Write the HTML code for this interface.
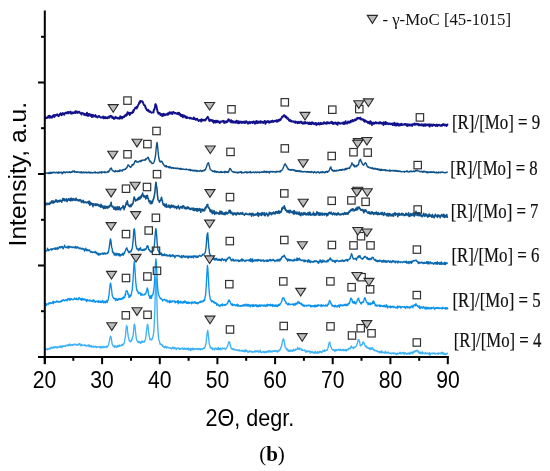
<!DOCTYPE html>
<html><head><meta charset="utf-8"><style>
html,body{margin:0;padding:0;background:#fff;}
body{width:550px;height:471px;overflow:hidden;}
svg{display:block;}
.a{stroke:#000;stroke-width:2;fill:none;}
.t{fill:#bcbcbc;stroke:#2a2a2a;stroke-width:1.1;stroke-linejoin:miter;}
.s{fill:none;stroke:#333;stroke-width:1.2;}
.tk{font-family:"Liberation Sans",Arial,sans-serif;font-size:23px;text-anchor:middle;fill:#000;}
.at{font-family:"Liberation Sans",Arial,sans-serif;font-size:23.2px;fill:#000;}
.at2{font-family:"Liberation Sans",Arial,sans-serif;font-size:24.6px;fill:#000;}
.lb{font-family:"Liberation Serif","Times New Roman",serif;font-size:20px;fill:#111;stroke:#111;stroke-width:0.2;}
.lg{font-family:"Liberation Serif","Times New Roman",serif;font-size:16.8px;fill:#111;}
.bb{font-family:"Liberation Serif","Times New Roman",serif;font-size:21px;font-weight:bold;fill:#000;}
</style></head><body>
<svg width="550" height="471" viewBox="0 0 550 471">
<polyline fill="none" stroke="#40b2f6" stroke-width="1.35" stroke-linejoin="round" points="45.00,349.6 45.35,349.7 45.70,349.3 46.05,348.9 46.40,349.1 46.75,348.7 47.10,349.2 47.45,349.8 47.80,348.8 48.15,348.6 48.50,349.2 48.85,349.0 49.20,348.8 49.55,348.2 49.90,348.6 50.25,349.0 50.60,347.8 50.95,348.2 51.30,347.3 51.65,347.6 52.00,347.2 52.35,348.1 52.70,347.4 53.05,348.2 53.40,348.1 53.75,347.8 54.10,346.5 54.45,347.5 54.80,347.7 55.15,347.8 55.50,346.8 55.85,347.3 56.20,347.0 56.55,347.0 56.90,348.0 57.25,346.9 57.60,347.3 57.95,347.7 58.30,346.8 58.65,347.0 59.00,347.1 59.35,347.0 59.70,346.2 60.05,346.9 60.40,347.5 60.75,345.8 61.10,347.1 61.45,346.6 61.80,346.1 62.15,347.5 62.50,346.8 62.85,345.6 63.20,346.3 63.55,346.5 63.90,346.0 64.25,346.4 64.60,345.9 64.95,346.2 65.30,346.6 65.65,345.4 66.00,345.8 66.35,345.4 66.70,345.6 67.05,344.8 67.40,345.1 67.75,345.3 68.10,345.8 68.45,345.9 68.80,344.5 69.15,344.7 69.50,345.4 69.85,343.9 70.20,344.7 70.55,344.9 70.90,345.6 71.25,345.2 71.60,344.6 71.95,344.6 72.30,344.6 72.65,345.6 73.00,344.5 73.35,344.5 73.70,344.8 74.05,344.6 74.40,344.5 74.75,344.0 75.10,344.6 75.45,344.3 75.80,345.2 76.15,344.9 76.50,344.6 76.85,344.9 77.20,344.4 77.55,345.2 77.90,344.6 78.25,345.0 78.60,344.0 78.95,344.9 79.30,343.8 79.65,343.6 80.00,344.6 80.35,344.3 80.70,345.0 81.05,346.1 81.40,344.5 81.75,344.7 82.10,345.2 82.45,345.4 82.80,345.1 83.15,345.1 83.50,345.6 83.85,345.6 84.20,344.8 84.55,345.4 84.90,345.5 85.25,345.0 85.60,345.7 85.95,345.2 86.30,346.2 86.65,345.9 87.00,345.9 87.35,345.6 87.70,345.9 88.05,344.9 88.40,345.4 88.75,346.3 89.10,345.0 89.45,346.7 89.80,345.3 90.15,346.7 90.50,345.9 90.85,346.8 91.20,346.5 91.55,345.6 91.90,347.2 92.25,347.3 92.60,346.5 92.95,346.5 93.30,346.6 93.65,346.1 94.00,347.3 94.35,346.4 94.70,346.7 95.05,346.4 95.40,346.5 95.75,346.2 96.10,347.6 96.45,346.8 96.80,347.5 97.15,347.0 97.50,346.6 97.85,346.8 98.20,346.7 98.55,347.1 98.90,346.9 99.25,347.0 99.60,346.4 99.95,346.7 100.30,348.1 100.65,346.8 101.00,346.6 101.35,347.4 101.70,348.0 102.05,346.5 102.40,347.2 102.75,346.9 103.10,346.3 103.45,347.7 103.80,347.2 104.15,347.3 104.50,346.8 104.85,347.5 105.20,346.9 105.55,347.0 105.90,346.5 106.25,346.3 106.60,347.6 106.95,346.5 107.30,346.8 107.65,346.3 108.00,345.7 108.35,345.0 108.70,344.7 109.05,342.7 109.40,340.9 109.75,338.9 110.10,337.5 110.45,336.2 110.80,336.5 111.15,337.8 111.50,339.5 111.85,342.7 112.20,344.2 112.55,344.6 112.90,345.7 113.25,346.2 113.60,346.5 113.95,346.7 114.30,346.0 114.65,347.2 115.00,345.7 115.35,346.9 115.70,346.7 116.05,346.9 116.40,347.4 116.75,347.2 117.10,345.7 117.45,345.4 117.80,346.8 118.15,345.7 118.50,346.2 118.85,346.6 119.20,345.2 119.55,344.9 119.90,346.1 120.25,345.9 120.60,345.7 120.95,345.8 121.30,345.1 121.65,344.7 122.00,345.3 122.35,344.7 122.70,344.1 123.05,345.0 123.40,344.4 123.75,344.2 124.10,342.8 124.45,342.0 124.80,340.2 125.15,338.0 125.50,335.5 125.85,331.2 126.20,328.0 126.55,325.4 126.90,326.3 127.25,326.8 127.60,331.5 127.95,334.2 128.30,336.9 128.65,337.9 129.00,339.6 129.35,341.0 129.70,340.9 130.05,341.2 130.40,341.1 130.75,341.9 131.10,341.2 131.45,339.8 131.80,340.2 132.15,338.8 132.50,336.9 132.85,336.6 133.20,335.0 133.55,331.0 133.90,326.8 134.25,324.2 134.60,324.7 134.95,326.2 135.30,329.6 135.65,333.0 136.00,336.0 136.35,338.6 136.70,340.0 137.05,340.7 137.40,340.6 137.75,341.9 138.10,341.5 138.45,342.6 138.80,341.4 139.15,342.2 139.50,342.3 139.85,341.6 140.20,343.3 140.55,343.2 140.90,342.2 141.25,342.8 141.60,342.6 141.95,340.9 142.30,342.4 142.65,342.2 143.00,342.2 143.35,341.4 143.70,341.7 144.05,341.5 144.40,342.0 144.75,341.0 145.10,340.1 145.45,339.8 145.80,336.8 146.15,334.4 146.50,330.4 146.85,328.7 147.20,325.4 147.55,324.3 147.90,325.7 148.25,328.5 148.60,331.9 148.95,334.5 149.30,336.6 149.65,338.1 150.00,339.8 150.35,339.7 150.70,339.5 151.05,339.2 151.40,339.0 151.75,340.0 152.10,339.1 152.45,338.3 152.80,337.3 153.15,335.6 153.50,334.1 153.85,331.2 154.20,325.2 154.55,317.4 154.90,306.9 155.25,294.7 155.60,282.3 155.95,277.4 156.30,280.6 156.65,292.4 157.00,304.3 157.35,316.6 157.70,326.2 158.05,331.6 158.40,335.7 158.75,338.9 159.10,340.5 159.45,341.2 159.80,342.9 160.15,344.4 160.50,343.7 160.85,344.1 161.20,344.1 161.55,345.1 161.90,344.6 162.25,344.9 162.60,346.4 162.95,345.4 163.30,346.7 163.65,347.1 164.00,346.6 164.35,346.9 164.70,347.8 165.05,346.7 165.40,346.6 165.75,346.3 166.10,347.2 166.45,348.1 166.80,347.9 167.15,346.9 167.50,347.1 167.85,347.3 168.20,347.8 168.55,347.6 168.90,347.9 169.25,348.0 169.60,347.7 169.95,347.9 170.30,348.1 170.65,347.9 171.00,348.3 171.35,349.1 171.70,348.4 172.05,348.2 172.40,347.2 172.75,348.4 173.10,347.2 173.45,347.5 173.80,348.8 174.15,348.7 174.50,348.3 174.85,347.4 175.20,348.2 175.55,348.1 175.90,348.8 176.25,349.7 176.60,348.6 176.95,348.1 177.30,347.9 177.65,348.5 178.00,348.5 178.35,348.0 178.70,348.7 179.05,348.0 179.40,349.3 179.75,349.3 180.10,349.3 180.45,348.5 180.80,349.0 181.15,348.7 181.50,348.6 181.85,348.6 182.20,348.1 182.55,348.0 182.90,349.3 183.25,348.7 183.60,349.0 183.95,349.4 184.30,347.9 184.65,348.5 185.00,349.0 185.35,349.1 185.70,348.7 186.05,349.5 186.40,349.1 186.75,348.3 187.10,348.5 187.45,349.4 187.80,349.3 188.15,348.0 188.50,349.8 188.85,349.4 189.20,349.8 189.55,348.8 189.90,348.9 190.25,348.5 190.60,350.5 190.95,349.0 191.30,350.0 191.65,348.8 192.00,349.2 192.35,348.2 192.70,348.9 193.05,349.7 193.40,348.5 193.75,349.8 194.10,349.4 194.45,348.6 194.80,348.9 195.15,348.9 195.50,349.2 195.85,348.9 196.20,348.7 196.55,349.0 196.90,348.6 197.25,348.5 197.60,349.2 197.95,349.7 198.30,348.4 198.65,349.2 199.00,348.8 199.35,348.6 199.70,349.6 200.05,348.9 200.40,349.9 200.75,348.7 201.10,349.3 201.45,348.9 201.80,348.6 202.15,349.2 202.50,348.8 202.85,349.1 203.20,348.7 203.55,348.0 203.90,348.3 204.25,348.2 204.60,348.3 204.95,346.8 205.30,346.5 205.65,344.3 206.00,343.6 206.35,340.0 206.70,336.3 207.05,333.8 207.40,332.0 207.75,330.3 208.10,332.8 208.45,336.4 208.80,339.5 209.15,343.1 209.50,344.5 209.85,345.9 210.20,347.5 210.55,347.3 210.90,348.3 211.25,347.7 211.60,347.7 211.95,347.5 212.30,349.7 212.65,348.5 213.00,348.9 213.35,348.8 213.70,348.9 214.05,348.9 214.40,350.0 214.75,348.4 215.10,348.1 215.45,348.4 215.80,348.2 216.15,349.4 216.50,349.4 216.85,348.5 217.20,348.2 217.55,348.8 217.90,349.8 218.25,347.4 218.60,349.3 218.95,348.4 219.30,349.5 219.65,348.4 220.00,348.8 220.35,348.1 220.70,348.4 221.05,349.7 221.40,349.4 221.75,348.7 222.10,348.4 222.45,347.8 222.80,348.6 223.15,348.8 223.50,348.8 223.85,348.7 224.20,348.1 224.55,348.7 224.90,348.6 225.25,349.3 225.60,349.5 225.95,348.3 226.30,347.8 226.65,347.9 227.00,347.2 227.35,346.4 227.70,345.9 228.05,344.1 228.40,343.5 228.75,341.9 229.10,341.6 229.45,342.0 229.80,343.1 230.15,344.5 230.50,346.3 230.85,347.2 231.20,348.4 231.55,348.8 231.90,348.4 232.25,349.4 232.60,348.8 232.95,349.3 233.30,349.6 233.65,348.7 234.00,349.9 234.35,350.0 234.70,349.9 235.05,349.8 235.40,349.9 235.75,349.6 236.10,350.1 236.45,350.0 236.80,350.4 237.15,349.7 237.50,350.5 237.85,350.5 238.20,350.4 238.55,350.3 238.90,350.9 239.25,349.7 239.60,350.9 239.95,350.8 240.30,350.8 240.65,350.9 241.00,350.4 241.35,350.6 241.70,351.2 242.05,351.1 242.40,351.0 242.75,350.1 243.10,351.2 243.45,351.6 243.80,351.6 244.15,351.2 244.50,350.2 244.85,351.6 245.20,351.0 245.55,349.8 245.90,351.4 246.25,350.4 246.60,350.5 246.95,350.9 247.30,352.0 247.65,351.1 248.00,351.5 248.35,352.3 248.70,352.2 249.05,351.3 249.40,351.3 249.75,350.7 250.10,351.1 250.45,351.7 250.80,351.7 251.15,351.6 251.50,352.1 251.85,351.1 252.20,351.5 252.55,352.0 252.90,351.9 253.25,352.2 253.60,351.8 253.95,351.5 254.30,351.8 254.65,351.1 255.00,350.8 255.35,352.0 255.70,351.7 256.05,351.9 256.40,350.8 256.75,351.5 257.10,351.4 257.45,351.2 257.80,350.5 258.15,351.5 258.50,352.2 258.85,351.9 259.20,351.4 259.55,351.7 259.90,352.2 260.25,350.2 260.60,351.7 260.95,352.0 261.30,352.1 261.65,352.7 262.00,352.4 262.35,351.9 262.70,351.9 263.05,352.1 263.40,351.4 263.75,351.7 264.10,352.2 264.45,352.8 264.80,351.6 265.15,351.6 265.50,351.8 265.85,352.4 266.20,351.6 266.55,352.4 266.90,351.1 267.25,351.5 267.60,351.5 267.95,352.0 268.30,352.1 268.65,350.7 269.00,351.0 269.35,351.7 269.70,351.1 270.05,350.6 270.40,352.0 270.75,351.7 271.10,351.7 271.45,351.1 271.80,351.9 272.15,351.2 272.50,351.9 272.85,350.8 273.20,350.8 273.55,351.4 273.90,350.8 274.25,351.6 274.60,351.3 274.95,350.6 275.30,351.1 275.65,350.9 276.00,351.5 276.35,350.6 276.70,350.7 277.05,351.5 277.40,352.0 277.75,351.8 278.10,350.7 278.45,350.7 278.80,351.3 279.15,350.2 279.50,349.6 279.85,349.9 280.20,349.7 280.55,348.5 280.90,347.3 281.25,346.4 281.60,346.3 281.95,343.9 282.30,342.4 282.65,340.8 283.00,339.7 283.35,338.8 283.70,339.9 284.05,340.6 284.40,342.7 284.75,344.1 285.10,346.8 285.45,347.3 285.80,347.8 286.15,348.7 286.50,349.2 286.85,350.0 287.20,348.9 287.55,349.4 287.90,349.8 288.25,351.5 288.60,350.7 288.95,350.1 289.30,350.6 289.65,351.4 290.00,350.2 290.35,350.1 290.70,351.0 291.05,350.6 291.40,350.7 291.75,350.0 292.10,351.4 292.45,351.3 292.80,350.6 293.15,350.7 293.50,349.2 293.85,350.6 294.20,350.1 294.55,350.4 294.90,350.5 295.25,349.9 295.60,349.1 295.95,350.1 296.30,349.3 296.65,349.3 297.00,348.9 297.35,348.8 297.70,347.5 298.05,349.2 298.40,348.6 298.75,349.0 299.10,349.6 299.45,348.8 299.80,348.0 300.15,348.8 300.50,348.8 300.85,349.4 301.20,349.9 301.55,348.9 301.90,350.3 302.25,349.4 302.60,350.5 302.95,350.3 303.30,350.3 303.65,350.5 304.00,350.3 304.35,350.3 304.70,349.8 305.05,350.8 305.40,351.9 305.75,352.0 306.10,351.7 306.45,351.4 306.80,350.7 307.15,352.0 307.50,351.2 307.85,351.3 308.20,351.2 308.55,351.5 308.90,351.3 309.25,351.5 309.60,351.0 309.95,351.5 310.30,353.0 310.65,351.8 311.00,351.7 311.35,352.2 311.70,352.4 312.05,351.4 312.40,352.0 312.75,352.7 313.10,352.4 313.45,352.3 313.80,353.2 314.15,352.0 314.50,352.4 314.85,352.2 315.20,353.3 315.55,351.4 315.90,352.2 316.25,352.3 316.60,352.9 316.95,352.9 317.30,353.4 317.65,351.7 318.00,353.0 318.35,352.4 318.70,352.2 319.05,352.8 319.40,352.0 319.75,351.3 320.10,352.1 320.45,351.4 320.80,351.8 321.15,352.3 321.50,352.1 321.85,352.7 322.20,351.6 322.55,350.8 322.90,351.1 323.25,350.9 323.60,350.6 323.95,351.4 324.30,350.6 324.65,349.8 325.00,351.2 325.35,350.6 325.70,350.7 326.05,350.5 326.40,350.6 326.75,350.0 327.10,350.3 327.45,349.3 327.80,348.5 328.15,347.4 328.50,344.9 328.85,343.9 329.20,342.5 329.55,342.3 329.90,342.2 330.25,345.3 330.60,346.0 330.95,346.7 331.30,347.4 331.65,348.9 332.00,349.4 332.35,349.3 332.70,349.9 333.05,349.6 333.40,350.4 333.75,349.7 334.10,350.1 334.45,350.7 334.80,351.6 335.15,349.7 335.50,350.0 335.85,349.8 336.20,350.7 336.55,349.6 336.90,350.0 337.25,350.2 337.60,349.7 337.95,349.7 338.30,350.0 338.65,349.1 339.00,349.4 339.35,350.0 339.70,350.3 340.05,350.1 340.40,349.2 340.75,349.9 341.10,350.6 341.45,350.4 341.80,350.1 342.15,349.6 342.50,350.4 342.85,349.7 343.20,349.4 343.55,349.5 343.90,350.7 344.25,350.0 344.60,350.5 344.95,349.6 345.30,350.3 345.65,349.4 346.00,349.7 346.35,351.1 346.70,350.1 347.05,349.3 347.40,349.5 347.75,349.6 348.10,350.0 348.45,349.0 348.80,348.2 349.15,348.8 349.50,348.7 349.85,348.4 350.20,348.7 350.55,347.6 350.90,347.4 351.25,346.0 351.60,346.9 351.95,347.7 352.30,347.3 352.65,347.3 353.00,347.5 353.35,348.5 353.70,347.1 354.05,347.5 354.40,347.7 354.75,347.7 355.10,346.8 355.45,347.0 355.80,346.4 356.15,346.3 356.50,345.6 356.85,344.2 357.20,343.8 357.55,343.0 357.90,340.5 358.25,339.8 358.60,340.0 358.95,339.7 359.30,341.5 359.65,342.0 360.00,344.2 360.35,345.6 360.70,345.9 361.05,344.8 361.40,345.3 361.75,344.7 362.10,344.3 362.45,344.5 362.80,342.1 363.15,342.8 363.50,342.0 363.85,343.2 364.20,343.4 364.55,343.9 364.90,345.3 365.25,346.2 365.60,346.3 365.95,346.9 366.30,346.7 366.65,346.0 367.00,347.8 367.35,347.9 367.70,347.7 368.05,347.9 368.40,348.6 368.75,347.9 369.10,348.0 369.45,348.4 369.80,349.3 370.15,348.0 370.50,349.5 370.85,348.5 371.20,348.1 371.55,349.2 371.90,348.3 372.25,347.5 372.60,348.1 372.95,349.1 373.30,349.6 373.65,349.2 374.00,350.0 374.35,350.5 374.70,350.0 375.05,350.7 375.40,350.7 375.75,350.5 376.10,350.6 376.45,351.0 376.80,351.1 377.15,350.9 377.50,351.0 377.85,351.9 378.20,351.5 378.55,352.0 378.90,352.2 379.25,351.9 379.60,352.9 379.95,351.3 380.30,352.2 380.65,351.7 381.00,352.9 381.35,352.9 381.70,351.0 382.05,351.5 382.40,352.5 382.75,352.6 383.10,352.6 383.45,352.3 383.80,352.6 384.15,352.8 384.50,352.4 384.85,353.1 385.20,351.3 385.55,352.9 385.90,352.1 386.25,353.2 386.60,352.6 386.95,352.3 387.30,353.0 387.65,352.3 388.00,352.4 388.35,352.1 388.70,352.9 389.05,353.3 389.40,353.6 389.75,353.0 390.10,353.7 390.45,353.1 390.80,353.1 391.15,353.5 391.50,353.8 391.85,353.0 392.20,353.1 392.55,353.2 392.90,353.4 393.25,352.8 393.60,353.9 393.95,353.2 394.30,353.6 394.65,353.0 395.00,353.6 395.35,353.7 395.70,353.2 396.05,354.6 396.40,353.7 396.75,354.5 397.10,354.0 397.45,353.1 397.80,353.3 398.15,353.8 398.50,353.6 398.85,353.6 399.20,353.4 399.55,352.5 399.90,353.4 400.25,352.3 400.60,353.7 400.95,353.1 401.30,353.1 401.65,353.4 402.00,353.7 402.35,352.7 402.70,352.6 403.05,352.9 403.40,352.4 403.75,353.0 404.10,354.4 404.45,352.9 404.80,353.8 405.15,352.7 405.50,353.6 405.85,353.3 406.20,353.4 406.55,353.8 406.90,354.4 407.25,353.5 407.60,353.5 407.95,352.9 408.30,353.7 408.65,353.2 409.00,353.8 409.35,353.3 409.70,354.2 410.05,352.1 410.40,353.0 410.75,353.6 411.10,352.9 411.45,352.5 411.80,352.7 412.15,352.0 412.50,352.7 412.85,353.8 413.20,352.9 413.55,351.5 413.90,351.4 414.25,351.5 414.60,352.1 414.95,350.9 415.30,350.8 415.65,351.5 416.00,351.5 416.35,350.8 416.70,350.4 417.05,350.3 417.40,350.9 417.75,350.3 418.10,352.1 418.45,351.5 418.80,352.3 419.15,353.3 419.50,353.1 419.85,351.9 420.20,353.2 420.55,353.5 420.90,352.5 421.25,352.5 421.60,353.0 421.95,352.3 422.30,354.0 422.65,351.9 423.00,352.7 423.35,353.2 423.70,353.2 424.05,353.5 424.40,353.5 424.75,353.3 425.10,354.0 425.45,352.3 425.80,353.4 426.15,353.1 426.50,353.5 426.85,353.6 427.20,353.0 427.55,353.1 427.90,353.9 428.25,353.7 428.60,353.1 428.95,354.6 429.30,354.8 429.65,352.7 430.00,353.7 430.35,354.9 430.70,353.9 431.05,353.6 431.40,353.4 431.75,353.2 432.10,353.4 432.45,353.2 432.80,353.9 433.15,353.3 433.50,353.3 433.85,352.9 434.20,353.5 434.55,353.0 434.90,353.4 435.25,354.1 435.60,353.7 435.95,353.8 436.30,353.7 436.65,353.5 437.00,353.4 437.35,353.3 437.70,353.9 438.05,352.9 438.40,354.3 438.75,353.5 439.10,353.1 439.45,353.2 439.80,353.1 440.15,353.6 440.50,353.1 440.85,354.1 441.20,353.1 441.55,352.3 441.90,353.1 442.25,352.4 442.60,353.5 442.95,354.1 443.30,353.9 443.65,352.8 444.00,353.1 444.35,354.5 444.70,353.7 445.05,353.5 445.40,354.1 445.75,354.8 446.10,354.2 446.45,353.6 446.80,353.7 447.15,353.8 447.50,353.1 447.85,352.9"/>
<polyline fill="none" stroke="#0c93ee" stroke-width="1.35" stroke-linejoin="round" points="45.00,304.6 45.35,303.9 45.70,304.4 46.05,304.4 46.40,305.7 46.75,303.7 47.10,304.0 47.45,303.9 47.80,304.2 48.15,304.5 48.50,303.5 48.85,303.2 49.20,302.6 49.55,303.0 49.90,303.8 50.25,303.4 50.60,302.7 50.95,303.0 51.30,303.2 51.65,303.4 52.00,302.6 52.35,302.8 52.70,301.8 53.05,302.1 53.40,303.7 53.75,301.3 54.10,302.4 54.45,302.6 54.80,302.2 55.15,301.9 55.50,302.2 55.85,302.2 56.20,302.1 56.55,300.9 56.90,301.9 57.25,301.4 57.60,301.5 57.95,301.9 58.30,302.1 58.65,302.2 59.00,301.3 59.35,302.1 59.70,302.1 60.05,302.0 60.40,302.1 60.75,301.1 61.10,301.0 61.45,301.5 61.80,300.1 62.15,301.0 62.50,300.5 62.85,300.5 63.20,299.6 63.55,300.0 63.90,300.5 64.25,300.9 64.60,300.9 64.95,300.2 65.30,300.1 65.65,299.6 66.00,300.3 66.35,299.8 66.70,300.2 67.05,300.9 67.40,299.7 67.75,298.8 68.10,299.1 68.45,298.7 68.80,298.8 69.15,300.2 69.50,299.5 69.85,298.4 70.20,299.6 70.55,300.0 70.90,298.9 71.25,298.7 71.60,298.9 71.95,299.2 72.30,299.4 72.65,299.6 73.00,299.6 73.35,299.6 73.70,299.7 74.05,299.2 74.40,297.9 74.75,298.7 75.10,299.0 75.45,298.5 75.80,299.3 76.15,298.5 76.50,298.2 76.85,299.6 77.20,299.2 77.55,298.9 77.90,299.4 78.25,299.5 78.60,299.1 78.95,297.4 79.30,298.5 79.65,298.7 80.00,298.4 80.35,299.1 80.70,299.7 81.05,298.8 81.40,298.4 81.75,300.4 82.10,298.9 82.45,298.5 82.80,299.4 83.15,299.6 83.50,299.0 83.85,299.9 84.20,299.2 84.55,299.0 84.90,299.7 85.25,300.1 85.60,299.3 85.95,300.0 86.30,299.8 86.65,301.6 87.00,299.5 87.35,300.8 87.70,300.0 88.05,300.0 88.40,300.6 88.75,300.7 89.10,301.0 89.45,300.5 89.80,300.0 90.15,300.1 90.50,300.8 90.85,300.9 91.20,301.4 91.55,300.9 91.90,301.3 92.25,301.6 92.60,300.9 92.95,299.9 93.30,300.1 93.65,300.0 94.00,301.9 94.35,300.5 94.70,301.8 95.05,301.4 95.40,302.2 95.75,301.8 96.10,301.2 96.45,301.2 96.80,301.4 97.15,301.5 97.50,301.1 97.85,301.5 98.20,302.5 98.55,300.6 98.90,301.8 99.25,301.1 99.60,301.8 99.95,302.3 100.30,301.8 100.65,302.3 101.00,300.9 101.35,302.6 101.70,301.6 102.05,302.3 102.40,302.1 102.75,300.5 103.10,301.6 103.45,302.1 103.80,302.9 104.15,302.2 104.50,302.1 104.85,301.1 105.20,302.7 105.55,302.9 105.90,301.7 106.25,301.5 106.60,300.5 106.95,301.7 107.30,302.5 107.65,300.8 108.00,300.4 108.35,298.9 108.70,296.3 109.05,295.3 109.40,290.7 109.75,287.7 110.10,284.6 110.45,283.2 110.80,283.7 111.15,286.5 111.50,289.2 111.85,291.9 112.20,295.1 112.55,296.2 112.90,296.9 113.25,297.6 113.60,298.5 113.95,297.9 114.30,298.3 114.65,298.3 115.00,299.4 115.35,299.6 115.70,300.6 116.05,298.5 116.40,299.0 116.75,300.0 117.10,299.3 117.45,299.2 117.80,300.4 118.15,299.2 118.50,298.7 118.85,298.6 119.20,299.5 119.55,299.5 119.90,298.4 120.25,298.6 120.60,299.5 120.95,299.4 121.30,298.6 121.65,299.3 122.00,299.2 122.35,297.7 122.70,298.5 123.05,298.8 123.40,298.0 123.75,296.8 124.10,297.6 124.45,297.7 124.80,297.4 125.15,294.0 125.50,295.4 125.85,291.5 126.20,291.2 126.55,290.5 126.90,290.7 127.25,291.4 127.60,292.1 127.95,294.4 128.30,294.6 128.65,294.1 129.00,297.6 129.35,296.4 129.70,297.1 130.05,295.2 130.40,296.4 130.75,296.0 131.10,295.4 131.45,293.6 131.80,291.6 132.15,290.3 132.50,286.1 132.85,282.1 133.20,277.5 133.55,270.3 133.90,264.7 134.25,261.5 134.60,264.3 134.95,269.1 135.30,274.5 135.65,280.9 136.00,284.0 136.35,287.3 136.70,290.1 137.05,290.0 137.40,291.3 137.75,291.2 138.10,292.4 138.45,293.6 138.80,292.4 139.15,293.2 139.50,292.8 139.85,292.8 140.20,292.9 140.55,294.7 140.90,295.3 141.25,294.3 141.60,293.8 141.95,294.7 142.30,294.2 142.65,295.0 143.00,294.8 143.35,294.8 143.70,295.1 144.05,294.5 144.40,294.7 144.75,293.9 145.10,294.5 145.45,293.5 145.80,293.6 146.15,292.1 146.50,291.4 146.85,290.1 147.20,288.0 147.55,288.5 147.90,289.7 148.25,292.6 148.60,294.9 148.95,295.8 149.30,296.1 149.65,297.9 150.00,296.4 150.35,298.3 150.70,296.9 151.05,295.4 151.40,298.3 151.75,297.2 152.10,295.1 152.45,295.2 152.80,294.3 153.15,293.6 153.50,291.2 153.85,289.3 154.20,286.5 154.55,281.2 154.90,275.3 155.25,267.3 155.60,262.7 155.95,259.0 156.30,263.1 156.65,268.7 157.00,276.6 157.35,284.5 157.70,287.9 158.05,292.2 158.40,294.0 158.75,294.9 159.10,296.2 159.45,296.8 159.80,297.3 160.15,298.4 160.50,298.7 160.85,298.2 161.20,298.2 161.55,299.1 161.90,299.1 162.25,299.9 162.60,301.1 162.95,300.1 163.30,299.7 163.65,299.7 164.00,299.4 164.35,299.5 164.70,299.5 165.05,300.0 165.40,300.1 165.75,300.9 166.10,300.2 166.45,300.4 166.80,299.9 167.15,301.7 167.50,301.1 167.85,301.9 168.20,301.4 168.55,301.9 168.90,300.9 169.25,301.5 169.60,302.7 169.95,300.4 170.30,301.9 170.65,302.3 171.00,301.5 171.35,301.8 171.70,302.1 172.05,301.0 172.40,301.7 172.75,300.9 173.10,301.1 173.45,301.2 173.80,301.5 174.15,301.7 174.50,301.9 174.85,300.8 175.20,302.9 175.55,302.4 175.90,302.2 176.25,301.5 176.60,301.7 176.95,302.2 177.30,302.1 177.65,300.8 178.00,302.4 178.35,303.7 178.70,300.8 179.05,302.6 179.40,302.2 179.75,302.0 180.10,302.9 180.45,301.3 180.80,302.2 181.15,303.0 181.50,302.0 181.85,301.9 182.20,302.3 182.55,301.9 182.90,303.2 183.25,301.7 183.60,302.8 183.95,301.5 184.30,302.7 184.65,302.3 185.00,300.8 185.35,302.4 185.70,301.7 186.05,302.1 186.40,303.4 186.75,301.8 187.10,301.8 187.45,303.4 187.80,302.6 188.15,303.5 188.50,302.7 188.85,302.0 189.20,302.5 189.55,303.3 189.90,303.2 190.25,302.6 190.60,302.6 190.95,302.5 191.30,302.3 191.65,303.8 192.00,302.6 192.35,301.9 192.70,302.3 193.05,303.1 193.40,303.0 193.75,302.6 194.10,302.2 194.45,302.7 194.80,301.6 195.15,301.9 195.50,303.2 195.85,302.4 196.20,302.9 196.55,303.4 196.90,303.0 197.25,302.6 197.60,303.9 197.95,303.0 198.30,302.4 198.65,303.0 199.00,302.8 199.35,302.0 199.70,302.5 200.05,302.3 200.40,301.1 200.75,302.2 201.10,302.1 201.45,301.9 201.80,301.0 202.15,301.7 202.50,301.8 202.85,301.7 203.20,300.7 203.55,301.5 203.90,300.0 204.25,300.1 204.60,300.3 204.95,297.9 205.30,296.2 205.65,294.3 206.00,289.2 206.35,283.7 206.70,277.3 207.05,271.4 207.40,265.5 207.75,267.5 208.10,272.6 208.45,279.3 208.80,285.7 209.15,290.7 209.50,294.9 209.85,296.5 210.20,298.6 210.55,299.7 210.90,299.6 211.25,300.5 211.60,301.8 211.95,301.2 212.30,300.8 212.65,301.4 213.00,301.0 213.35,302.0 213.70,302.6 214.05,301.7 214.40,302.3 214.75,303.4 215.10,302.6 215.45,303.3 215.80,302.8 216.15,303.1 216.50,303.5 216.85,305.4 217.20,304.0 217.55,304.1 217.90,304.3 218.25,304.7 218.60,305.3 218.95,305.2 219.30,306.4 219.65,305.3 220.00,306.1 220.35,305.4 220.70,305.6 221.05,304.4 221.40,305.2 221.75,305.2 222.10,305.1 222.45,303.9 222.80,305.8 223.15,305.0 223.50,305.0 223.85,305.1 224.20,305.0 224.55,305.4 224.90,304.4 225.25,304.5 225.60,305.2 225.95,305.0 226.30,304.5 226.65,304.2 227.00,303.6 227.35,303.5 227.70,303.4 228.05,301.1 228.40,301.6 228.75,300.5 229.10,299.8 229.45,301.3 229.80,301.0 230.15,301.8 230.50,302.9 230.85,304.0 231.20,304.4 231.55,304.5 231.90,305.0 232.25,303.8 232.60,305.5 232.95,304.4 233.30,304.9 233.65,305.0 234.00,304.6 234.35,304.5 234.70,304.8 235.05,305.4 235.40,305.7 235.75,305.7 236.10,304.8 236.45,304.9 236.80,304.9 237.15,305.7 237.50,304.2 237.85,306.2 238.20,305.2 238.55,305.0 238.90,305.7 239.25,306.1 239.60,305.7 239.95,306.1 240.30,305.6 240.65,306.2 241.00,306.2 241.35,305.4 241.70,306.4 242.05,305.6 242.40,305.6 242.75,305.0 243.10,305.3 243.45,306.0 243.80,304.7 244.15,305.9 244.50,305.7 244.85,305.7 245.20,304.2 245.55,305.5 245.90,305.9 246.25,305.1 246.60,305.6 246.95,304.1 247.30,305.9 247.65,305.1 248.00,306.1 248.35,304.4 248.70,305.9 249.05,305.4 249.40,306.0 249.75,305.0 250.10,305.2 250.45,306.9 250.80,305.0 251.15,305.1 251.50,305.4 251.85,304.9 252.20,306.3 252.55,306.6 252.90,305.1 253.25,304.5 253.60,306.2 253.95,306.2 254.30,306.0 254.65,306.2 255.00,305.0 255.35,305.4 255.70,304.7 256.05,304.7 256.40,306.1 256.75,305.1 257.10,306.9 257.45,305.6 257.80,305.2 258.15,306.0 258.50,306.6 258.85,305.8 259.20,304.8 259.55,305.8 259.90,306.4 260.25,305.2 260.60,305.1 260.95,306.2 261.30,305.6 261.65,304.9 262.00,305.3 262.35,305.1 262.70,305.7 263.05,305.6 263.40,306.2 263.75,306.0 264.10,304.6 264.45,305.8 264.80,306.1 265.15,305.8 265.50,306.2 265.85,305.2 266.20,305.0 266.55,306.1 266.90,304.9 267.25,304.2 267.60,306.1 267.95,305.1 268.30,305.3 268.65,304.7 269.00,304.7 269.35,304.8 269.70,305.3 270.05,305.7 270.40,304.1 270.75,305.9 271.10,304.8 271.45,304.8 271.80,305.9 272.15,305.4 272.50,304.5 272.85,306.6 273.20,304.9 273.55,305.6 273.90,305.6 274.25,306.3 274.60,305.1 274.95,306.0 275.30,304.9 275.65,306.0 276.00,304.9 276.35,305.1 276.70,306.4 277.05,305.5 277.40,305.3 277.75,306.5 278.10,305.3 278.45,304.6 278.80,305.4 279.15,304.1 279.50,305.3 279.85,305.1 280.20,303.8 280.55,303.3 280.90,303.3 281.25,302.5 281.60,301.1 281.95,301.1 282.30,298.5 282.65,298.6 283.00,297.9 283.35,297.8 283.70,298.4 284.05,298.1 284.40,300.1 284.75,300.5 285.10,301.0 285.45,301.3 285.80,301.9 286.15,303.2 286.50,302.7 286.85,303.6 287.20,304.3 287.55,304.4 287.90,304.7 288.25,303.7 288.60,303.2 288.95,304.5 289.30,304.1 289.65,304.6 290.00,304.0 290.35,304.7 290.70,304.5 291.05,304.4 291.40,304.3 291.75,304.3 292.10,304.2 292.45,304.2 292.80,304.7 293.15,303.8 293.50,305.2 293.85,304.1 294.20,304.7 294.55,304.1 294.90,303.9 295.25,305.2 295.60,303.7 295.95,303.0 296.30,303.2 296.65,303.2 297.00,304.4 297.35,302.9 297.70,303.0 298.05,301.5 298.40,302.2 298.75,302.4 299.10,303.3 299.45,302.2 299.80,303.4 300.15,303.6 300.50,303.2 300.85,304.1 301.20,304.3 301.55,303.3 301.90,305.2 302.25,305.3 302.60,304.8 302.95,304.4 303.30,306.1 303.65,305.4 304.00,305.9 304.35,306.2 304.70,305.1 305.05,305.9 305.40,305.3 305.75,305.4 306.10,305.4 306.45,305.5 306.80,306.2 307.15,305.6 307.50,305.4 307.85,305.4 308.20,305.8 308.55,305.0 308.90,305.3 309.25,305.5 309.60,305.2 309.95,305.5 310.30,305.2 310.65,306.8 311.00,306.4 311.35,305.9 311.70,305.6 312.05,306.9 312.40,305.8 312.75,305.6 313.10,305.8 313.45,305.8 313.80,306.5 314.15,305.6 314.50,306.9 314.85,305.1 315.20,306.1 315.55,305.1 315.90,306.8 316.25,305.5 316.60,305.6 316.95,306.2 317.30,306.4 317.65,305.0 318.00,305.5 318.35,304.8 318.70,305.8 319.05,305.6 319.40,305.5 319.75,305.3 320.10,305.5 320.45,305.3 320.80,306.0 321.15,306.6 321.50,304.6 321.85,305.6 322.20,305.5 322.55,306.0 322.90,305.2 323.25,305.6 323.60,305.1 323.95,306.1 324.30,305.8 324.65,305.6 325.00,305.9 325.35,305.6 325.70,304.8 326.05,306.0 326.40,305.8 326.75,305.4 327.10,306.0 327.45,305.9 327.80,304.2 328.15,303.8 328.50,304.5 328.85,303.5 329.20,301.3 329.55,300.5 329.90,300.8 330.25,301.6 330.60,301.9 330.95,303.8 331.30,303.7 331.65,304.3 332.00,305.9 332.35,305.2 332.70,305.7 333.05,306.2 333.40,306.4 333.75,305.7 334.10,306.0 334.45,305.5 334.80,307.0 335.15,306.4 335.50,305.3 335.85,306.0 336.20,306.4 336.55,306.3 336.90,307.1 337.25,306.8 337.60,305.6 337.95,305.9 338.30,305.1 338.65,306.0 339.00,305.9 339.35,307.4 339.70,305.9 340.05,304.5 340.40,305.3 340.75,305.8 341.10,304.9 341.45,305.1 341.80,305.4 342.15,305.8 342.50,305.4 342.85,305.0 343.20,305.9 343.55,305.1 343.90,305.1 344.25,304.5 344.60,304.8 344.95,305.6 345.30,304.2 345.65,305.1 346.00,305.5 346.35,304.8 346.70,305.0 347.05,304.1 347.40,305.5 347.75,305.2 348.10,304.5 348.45,303.1 348.80,303.1 349.15,303.8 349.50,303.5 349.85,301.6 350.20,301.0 350.55,298.7 350.90,298.2 351.25,298.4 351.60,299.4 351.95,299.3 352.30,301.7 352.65,302.7 353.00,301.7 353.35,301.9 353.70,303.1 354.05,302.5 354.40,301.5 354.75,303.4 355.10,303.0 355.45,302.5 355.80,304.0 356.15,302.6 356.50,301.8 356.85,301.8 357.20,300.4 357.55,299.6 357.90,299.3 358.25,298.1 358.60,298.2 358.95,300.2 359.30,300.8 359.65,301.7 360.00,302.2 360.35,302.6 360.70,303.5 361.05,302.8 361.40,304.0 361.75,302.3 362.10,302.7 362.45,301.9 362.80,302.2 363.15,302.3 363.50,302.2 363.85,300.0 364.20,299.3 364.55,298.1 364.90,297.7 365.25,298.2 365.60,300.0 365.95,300.1 366.30,302.0 366.65,302.6 367.00,302.6 367.35,302.6 367.70,302.6 368.05,304.6 368.40,302.8 368.75,304.6 369.10,304.1 369.45,303.5 369.80,303.1 370.15,304.4 370.50,304.8 370.85,303.2 371.20,303.4 371.55,304.0 371.90,303.3 372.25,303.8 372.60,301.8 372.95,302.1 373.30,301.0 373.65,303.4 374.00,302.3 374.35,302.0 374.70,303.8 375.05,304.2 375.40,305.8 375.75,304.6 376.10,305.0 376.45,305.5 376.80,306.2 377.15,305.2 377.50,306.0 377.85,305.7 378.20,305.3 378.55,305.6 378.90,305.6 379.25,305.1 379.60,306.4 379.95,304.9 380.30,306.5 380.65,306.4 381.00,305.8 381.35,305.4 381.70,305.8 382.05,306.2 382.40,306.4 382.75,306.2 383.10,306.7 383.45,305.8 383.80,306.3 384.15,305.2 384.50,306.7 384.85,306.3 385.20,306.0 385.55,307.0 385.90,306.8 386.25,304.7 386.60,306.4 386.95,305.6 387.30,307.1 387.65,308.0 388.00,306.2 388.35,306.6 388.70,306.4 389.05,306.8 389.40,307.0 389.75,307.4 390.10,306.1 390.45,307.7 390.80,306.2 391.15,306.9 391.50,307.5 391.85,307.3 392.20,306.3 392.55,306.5 392.90,306.6 393.25,306.9 393.60,307.6 393.95,306.2 394.30,307.3 394.65,307.4 395.00,307.4 395.35,307.3 395.70,308.0 396.05,307.4 396.40,307.6 396.75,307.5 397.10,308.2 397.45,306.0 397.80,307.9 398.15,307.0 398.50,307.0 398.85,306.6 399.20,306.1 399.55,307.0 399.90,306.8 400.25,307.5 400.60,306.4 400.95,308.1 401.30,307.4 401.65,307.1 402.00,306.9 402.35,306.8 402.70,306.6 403.05,307.0 403.40,307.3 403.75,307.2 404.10,306.5 404.45,307.2 404.80,306.8 405.15,307.4 405.50,308.5 405.85,307.7 406.20,307.2 406.55,306.4 406.90,306.5 407.25,306.4 407.60,307.8 407.95,306.9 408.30,307.4 408.65,307.0 409.00,307.4 409.35,308.2 409.70,306.9 410.05,307.0 410.40,306.7 410.75,307.7 411.10,306.5 411.45,306.3 411.80,306.0 412.15,305.9 412.50,306.8 412.85,307.9 413.20,305.5 413.55,306.4 413.90,305.8 414.25,304.7 414.60,304.9 414.95,304.8 415.30,304.4 415.65,305.9 416.00,303.7 416.35,305.2 416.70,305.4 417.05,305.1 417.40,305.9 417.75,306.6 418.10,306.4 418.45,306.8 418.80,307.2 419.15,305.7 419.50,308.0 419.85,308.6 420.20,307.9 420.55,308.0 420.90,306.6 421.25,307.5 421.60,307.1 421.95,307.3 422.30,308.3 422.65,307.2 423.00,307.7 423.35,306.6 423.70,307.7 424.05,307.8 424.40,307.4 424.75,307.4 425.10,309.0 425.45,307.1 425.80,307.2 426.15,307.4 426.50,308.6 426.85,309.2 427.20,308.1 427.55,307.5 427.90,307.7 428.25,308.6 428.60,307.4 428.95,308.8 429.30,308.8 429.65,308.0 430.00,308.4 430.35,308.5 430.70,308.9 431.05,307.4 431.40,308.7 431.75,307.8 432.10,307.6 432.45,308.1 432.80,307.9 433.15,307.5 433.50,307.1 433.85,307.5 434.20,308.9 434.55,309.3 434.90,308.5 435.25,308.8 435.60,307.8 435.95,308.1 436.30,308.3 436.65,307.5 437.00,307.5 437.35,308.2 437.70,307.9 438.05,307.5 438.40,308.4 438.75,308.0 439.10,308.7 439.45,308.1 439.80,308.0 440.15,308.2 440.50,308.0 440.85,307.8 441.20,307.9 441.55,308.6 441.90,308.5 442.25,308.9 442.60,307.1 442.95,307.9 443.30,307.9 443.65,308.3 444.00,307.9 444.35,307.9 444.70,308.6 445.05,308.3 445.40,307.5 445.75,309.0 446.10,308.8 446.45,307.8 446.80,308.7 447.15,307.7 447.50,308.9 447.85,308.1"/>
<polyline fill="none" stroke="#0a6ab2" stroke-width="1.4" stroke-linejoin="round" points="45.00,250.9 45.35,251.0 45.70,250.7 46.05,251.1 46.40,251.0 46.75,250.8 47.10,250.3 47.45,248.3 47.80,250.4 48.15,249.1 48.50,250.3 48.85,250.7 49.20,250.1 49.55,249.6 49.90,249.6 50.25,249.6 50.60,249.2 50.95,249.1 51.30,248.8 51.65,250.0 52.00,249.1 52.35,249.6 52.70,248.8 53.05,248.9 53.40,248.7 53.75,249.0 54.10,249.1 54.45,248.7 54.80,248.1 55.15,247.9 55.50,249.3 55.85,248.1 56.20,248.0 56.55,249.0 56.90,248.7 57.25,248.3 57.60,247.7 57.95,249.3 58.30,248.1 58.65,248.1 59.00,247.6 59.35,246.8 59.70,246.8 60.05,247.8 60.40,247.8 60.75,247.3 61.10,246.7 61.45,246.5 61.80,247.2 62.15,246.5 62.50,247.8 62.85,248.0 63.20,248.9 63.55,247.7 63.90,246.8 64.25,246.6 64.60,245.1 64.95,246.7 65.30,247.0 65.65,247.6 66.00,247.4 66.35,247.4 66.70,247.1 67.05,247.4 67.40,247.9 67.75,246.4 68.10,246.7 68.45,246.2 68.80,248.0 69.15,247.8 69.50,247.4 69.85,246.3 70.20,247.1 70.55,246.9 70.90,247.1 71.25,246.9 71.60,247.4 71.95,246.9 72.30,247.6 72.65,247.3 73.00,247.0 73.35,247.2 73.70,247.0 74.05,247.8 74.40,247.2 74.75,247.6 75.10,247.2 75.45,246.6 75.80,248.1 76.15,247.0 76.50,248.1 76.85,248.0 77.20,246.8 77.55,247.3 77.90,247.6 78.25,247.5 78.60,247.4 78.95,248.6 79.30,248.1 79.65,248.5 80.00,248.1 80.35,248.6 80.70,248.1 81.05,248.6 81.40,249.1 81.75,248.8 82.10,248.6 82.45,248.3 82.80,249.1 83.15,249.3 83.50,249.1 83.85,248.8 84.20,249.7 84.55,251.0 84.90,249.4 85.25,249.9 85.60,250.0 85.95,248.3 86.30,250.0 86.65,249.6 87.00,250.9 87.35,250.0 87.70,249.8 88.05,250.2 88.40,250.6 88.75,250.2 89.10,250.6 89.45,249.9 89.80,250.7 90.15,251.4 90.50,252.2 90.85,251.5 91.20,251.4 91.55,252.0 91.90,252.1 92.25,252.6 92.60,252.4 92.95,251.8 93.30,252.2 93.65,252.3 94.00,252.5 94.35,252.6 94.70,252.2 95.05,251.5 95.40,252.5 95.75,251.9 96.10,253.3 96.45,253.4 96.80,252.5 97.15,254.0 97.50,254.2 97.85,253.8 98.20,254.9 98.55,255.1 98.90,253.3 99.25,254.7 99.60,254.3 99.95,254.3 100.30,254.6 100.65,253.6 101.00,253.7 101.35,253.5 101.70,253.6 102.05,253.9 102.40,253.1 102.75,253.3 103.10,254.3 103.45,253.9 103.80,254.1 104.15,252.7 104.50,253.4 104.85,253.5 105.20,253.8 105.55,253.3 105.90,254.2 106.25,253.5 106.60,253.4 106.95,253.3 107.30,253.5 107.65,252.5 108.00,253.0 108.35,251.8 108.70,250.4 109.05,248.6 109.40,246.4 109.75,243.7 110.10,240.8 110.45,239.0 110.80,240.2 111.15,242.4 111.50,246.1 111.85,248.0 112.20,248.8 112.55,252.3 112.90,252.4 113.25,252.2 113.60,253.2 113.95,253.0 114.30,255.1 114.65,254.3 115.00,253.2 115.35,254.6 115.70,254.2 116.05,255.6 116.40,254.0 116.75,253.3 117.10,254.8 117.45,254.6 117.80,254.6 118.15,253.6 118.50,255.1 118.85,255.8 119.20,253.7 119.55,255.5 119.90,254.4 120.25,256.1 120.60,254.9 120.95,254.5 121.30,255.2 121.65,254.8 122.00,254.1 122.35,254.8 122.70,253.9 123.05,253.1 123.40,255.2 123.75,253.6 124.10,253.2 124.45,253.4 124.80,251.8 125.15,251.1 125.50,250.6 125.85,249.4 126.20,248.5 126.55,248.5 126.90,247.8 127.25,249.3 127.60,250.4 127.95,250.3 128.30,251.8 128.65,251.5 129.00,252.9 129.35,252.5 129.70,252.2 130.05,251.3 130.40,251.9 130.75,251.1 131.10,251.6 131.45,250.5 131.80,249.2 132.15,248.8 132.50,246.5 132.85,242.6 133.20,239.5 133.55,234.0 133.90,229.9 134.25,228.8 134.60,230.3 134.95,234.5 135.30,239.0 135.65,243.5 136.00,246.1 136.35,246.7 136.70,248.8 137.05,248.3 137.40,248.9 137.75,249.4 138.10,249.2 138.45,250.5 138.80,249.3 139.15,248.5 139.50,250.0 139.85,249.0 140.20,249.1 140.55,247.6 140.90,250.0 141.25,250.0 141.60,250.0 141.95,250.1 142.30,250.6 142.65,249.6 143.00,250.2 143.35,249.3 143.70,249.5 144.05,250.4 144.40,250.0 144.75,248.9 145.10,249.8 145.45,249.4 145.80,248.7 146.15,249.0 146.50,247.9 146.85,246.4 147.20,246.0 147.55,247.4 147.90,245.8 148.25,247.8 148.60,249.0 148.95,249.9 149.30,249.5 149.65,250.5 150.00,251.2 150.35,251.8 150.70,251.1 151.05,250.9 151.40,252.2 151.75,252.3 152.10,251.7 152.45,251.0 152.80,251.4 153.15,250.7 153.50,250.4 153.85,247.8 154.20,246.5 154.55,243.2 154.90,238.4 155.25,234.4 155.60,230.1 155.95,228.6 156.30,231.5 156.65,235.1 157.00,240.8 157.35,245.2 157.70,248.1 158.05,250.6 158.40,250.5 158.75,251.1 159.10,252.7 159.45,253.2 159.80,254.5 160.15,253.8 160.50,253.1 160.85,254.2 161.20,253.4 161.55,253.1 161.90,255.7 162.25,254.4 162.60,254.7 162.95,254.7 163.30,255.6 163.65,254.7 164.00,255.3 164.35,254.1 164.70,253.9 165.05,255.6 165.40,255.7 165.75,255.2 166.10,255.1 166.45,255.1 166.80,254.6 167.15,256.0 167.50,255.5 167.85,255.5 168.20,255.5 168.55,255.9 168.90,255.6 169.25,255.8 169.60,254.7 169.95,255.8 170.30,256.8 170.65,255.2 171.00,255.5 171.35,256.1 171.70,256.2 172.05,256.1 172.40,254.8 172.75,256.1 173.10,255.1 173.45,255.3 173.80,256.2 174.15,255.7 174.50,256.4 174.85,257.9 175.20,256.5 175.55,256.5 175.90,255.5 176.25,255.7 176.60,255.5 176.95,255.8 177.30,255.5 177.65,255.8 178.00,256.1 178.35,255.7 178.70,255.4 179.05,255.5 179.40,256.6 179.75,256.4 180.10,257.0 180.45,257.1 180.80,256.2 181.15,256.9 181.50,255.6 181.85,257.9 182.20,257.3 182.55,256.4 182.90,255.9 183.25,256.8 183.60,255.5 183.95,256.2 184.30,257.1 184.65,256.7 185.00,256.4 185.35,257.3 185.70,256.1 186.05,256.9 186.40,256.5 186.75,256.3 187.10,257.1 187.45,256.2 187.80,257.9 188.15,256.5 188.50,258.0 188.85,256.2 189.20,257.2 189.55,256.1 189.90,256.1 190.25,257.0 190.60,257.3 190.95,256.1 191.30,257.6 191.65,256.4 192.00,257.0 192.35,257.1 192.70,257.2 193.05,255.8 193.40,257.8 193.75,257.2 194.10,256.6 194.45,256.2 194.80,255.8 195.15,256.0 195.50,257.1 195.85,256.6 196.20,256.1 196.55,256.4 196.90,257.6 197.25,256.4 197.60,256.2 197.95,257.3 198.30,256.7 198.65,256.4 199.00,256.0 199.35,255.3 199.70,255.5 200.05,255.8 200.40,255.9 200.75,256.2 201.10,256.2 201.45,255.9 201.80,255.8 202.15,255.0 202.50,254.2 202.85,255.0 203.20,254.6 203.55,254.6 203.90,254.6 204.25,253.6 204.60,253.3 204.95,253.2 205.30,252.2 205.65,250.0 206.00,248.0 206.35,243.9 206.70,238.9 207.05,235.0 207.40,233.5 207.75,232.9 208.10,237.9 208.45,242.9 208.80,247.3 209.15,249.4 209.50,253.5 209.85,254.0 210.20,254.9 210.55,255.6 210.90,256.7 211.25,256.8 211.60,257.1 211.95,258.3 212.30,257.4 212.65,257.4 213.00,258.8 213.35,258.9 213.70,259.4 214.05,258.2 214.40,259.6 214.75,259.4 215.10,260.2 215.45,258.5 215.80,259.4 216.15,259.2 216.50,258.4 216.85,259.0 217.20,260.2 217.55,259.2 217.90,259.1 218.25,260.1 218.60,260.2 218.95,260.3 219.30,259.2 219.65,259.7 220.00,260.4 220.35,259.4 220.70,259.4 221.05,260.4 221.40,260.8 221.75,259.2 222.10,258.4 222.45,259.1 222.80,259.4 223.15,259.9 223.50,260.4 223.85,259.9 224.20,259.6 224.55,260.1 224.90,259.4 225.25,260.0 225.60,259.6 225.95,261.6 226.30,260.4 226.65,259.4 227.00,259.1 227.35,259.2 227.70,258.1 228.05,258.2 228.40,257.6 228.75,258.1 229.10,257.1 229.45,257.1 229.80,257.3 230.15,258.0 230.50,259.1 230.85,259.4 231.20,260.5 231.55,259.6 231.90,260.7 232.25,260.3 232.60,260.2 232.95,259.0 233.30,259.5 233.65,260.7 234.00,261.1 234.35,260.4 234.70,260.8 235.05,260.1 235.40,260.1 235.75,259.9 236.10,260.9 236.45,260.5 236.80,260.2 237.15,260.2 237.50,260.7 237.85,260.6 238.20,259.9 238.55,261.4 238.90,260.5 239.25,260.4 239.60,261.3 239.95,261.0 240.30,260.3 240.65,260.7 241.00,259.7 241.35,260.0 241.70,259.0 242.05,261.1 242.40,259.3 242.75,260.8 243.10,259.9 243.45,259.8 243.80,260.3 244.15,260.6 244.50,260.8 244.85,261.5 245.20,260.6 245.55,260.9 245.90,260.1 246.25,260.8 246.60,260.5 246.95,260.1 247.30,260.4 247.65,260.4 248.00,260.5 248.35,260.7 248.70,260.1 249.05,260.0 249.40,260.9 249.75,259.4 250.10,260.1 250.45,261.4 250.80,258.8 251.15,260.0 251.50,260.9 251.85,259.4 252.20,262.0 252.55,258.9 252.90,261.3 253.25,261.4 253.60,261.0 253.95,260.3 254.30,260.7 254.65,259.9 255.00,260.9 255.35,259.8 255.70,260.3 256.05,261.0 256.40,259.8 256.75,260.2 257.10,260.5 257.45,259.6 257.80,261.1 258.15,260.7 258.50,259.5 258.85,260.4 259.20,260.0 259.55,260.1 259.90,260.5 260.25,260.0 260.60,261.0 260.95,260.0 261.30,261.0 261.65,260.4 262.00,261.0 262.35,260.1 262.70,260.1 263.05,259.8 263.40,260.8 263.75,261.0 264.10,261.7 264.45,261.2 264.80,260.6 265.15,260.3 265.50,260.7 265.85,260.4 266.20,261.3 266.55,261.0 266.90,259.9 267.25,260.0 267.60,261.3 267.95,260.6 268.30,260.3 268.65,261.2 269.00,260.2 269.35,260.3 269.70,260.2 270.05,259.3 270.40,260.9 270.75,259.7 271.10,260.1 271.45,260.0 271.80,260.9 272.15,260.4 272.50,260.4 272.85,259.4 273.20,260.4 273.55,259.5 273.90,260.6 274.25,260.6 274.60,260.4 274.95,261.6 275.30,260.7 275.65,260.7 276.00,260.4 276.35,260.2 276.70,260.9 277.05,261.0 277.40,259.5 277.75,260.9 278.10,260.5 278.45,260.8 278.80,260.4 279.15,259.3 279.50,259.3 279.85,261.0 280.20,259.9 280.55,258.7 280.90,259.6 281.25,258.8 281.60,257.5 281.95,256.8 282.30,256.6 282.65,257.2 283.00,256.5 283.35,256.0 283.70,256.1 284.05,256.5 284.40,255.2 284.75,256.9 285.10,257.1 285.45,257.4 285.80,258.3 286.15,258.9 286.50,259.2 286.85,258.7 287.20,259.5 287.55,261.1 287.90,259.4 288.25,259.1 288.60,260.3 288.95,260.5 289.30,260.5 289.65,259.5 290.00,260.8 290.35,259.8 290.70,259.6 291.05,259.9 291.40,260.2 291.75,260.7 292.10,260.7 292.45,260.3 292.80,260.9 293.15,260.4 293.50,260.8 293.85,259.5 294.20,259.3 294.55,260.7 294.90,259.4 295.25,260.0 295.60,260.0 295.95,259.7 296.30,259.6 296.65,260.5 297.00,257.9 297.35,259.7 297.70,260.4 298.05,258.8 298.40,258.7 298.75,259.1 299.10,259.9 299.45,258.3 299.80,259.3 300.15,259.4 300.50,260.1 300.85,260.1 301.20,260.6 301.55,260.1 301.90,260.5 302.25,260.1 302.60,260.2 302.95,260.6 303.30,260.6 303.65,260.1 304.00,261.7 304.35,260.7 304.70,260.0 305.05,261.5 305.40,260.5 305.75,261.2 306.10,260.9 306.45,261.1 306.80,261.1 307.15,260.7 307.50,261.1 307.85,262.3 308.20,259.7 308.55,261.1 308.90,261.4 309.25,260.5 309.60,260.3 309.95,262.5 310.30,261.0 310.65,262.5 311.00,261.6 311.35,261.3 311.70,261.5 312.05,261.7 312.40,262.0 312.75,261.6 313.10,261.4 313.45,261.4 313.80,262.2 314.15,261.8 314.50,260.8 314.85,261.0 315.20,261.6 315.55,261.0 315.90,261.2 316.25,260.8 316.60,261.3 316.95,261.7 317.30,262.0 317.65,261.4 318.00,262.7 318.35,261.4 318.70,263.4 319.05,262.1 319.40,261.7 319.75,261.2 320.10,259.8 320.45,261.4 320.80,261.6 321.15,262.6 321.50,260.6 321.85,262.6 322.20,261.3 322.55,261.9 322.90,259.9 323.25,261.5 323.60,261.2 323.95,261.8 324.30,261.4 324.65,260.7 325.00,261.9 325.35,261.7 325.70,261.7 326.05,261.9 326.40,261.9 326.75,261.2 327.10,260.3 327.45,260.2 327.80,261.8 328.15,261.2 328.50,260.6 328.85,259.9 329.20,259.6 329.55,259.0 329.90,258.3 330.25,257.9 330.60,259.9 330.95,259.3 331.30,259.3 331.65,259.4 332.00,260.1 332.35,261.2 332.70,261.3 333.05,260.8 333.40,261.0 333.75,260.8 334.10,260.4 334.45,261.8 334.80,261.3 335.15,262.5 335.50,260.6 335.85,260.9 336.20,261.5 336.55,260.9 336.90,260.2 337.25,260.4 337.60,261.0 337.95,261.1 338.30,260.9 338.65,261.5 339.00,261.5 339.35,261.1 339.70,260.9 340.05,260.7 340.40,261.1 340.75,261.3 341.10,260.8 341.45,261.0 341.80,260.5 342.15,259.8 342.50,260.0 342.85,261.1 343.20,260.8 343.55,261.5 343.90,260.5 344.25,261.0 344.60,261.2 344.95,261.0 345.30,260.0 345.65,260.2 346.00,260.3 346.35,259.6 346.70,260.4 347.05,260.7 347.40,259.7 347.75,261.1 348.10,259.7 348.45,259.6 348.80,259.4 349.15,258.9 349.50,259.1 349.85,258.3 350.20,258.5 350.55,256.8 350.90,255.7 351.25,254.4 351.60,253.7 351.95,255.2 352.30,255.7 352.65,257.6 353.00,257.6 353.35,259.1 353.70,258.7 354.05,258.9 354.40,258.6 354.75,258.7 355.10,258.9 355.45,259.1 355.80,258.1 356.15,258.8 356.50,260.0 356.85,258.3 357.20,258.0 357.55,257.4 357.90,256.6 358.25,257.6 358.60,256.2 358.95,255.8 359.30,256.5 359.65,257.1 360.00,255.7 360.35,257.5 360.70,257.8 361.05,258.1 361.40,258.4 361.75,258.3 362.10,259.3 362.45,258.7 362.80,258.4 363.15,258.7 363.50,258.1 363.85,257.4 364.20,256.7 364.55,257.2 364.90,256.4 365.25,256.3 365.60,256.4 365.95,257.3 366.30,257.4 366.65,258.4 367.00,258.8 367.35,257.5 367.70,258.9 368.05,259.3 368.40,259.1 368.75,258.5 369.10,259.8 369.45,258.7 369.80,258.4 370.15,258.5 370.50,259.1 370.85,259.5 371.20,259.5 371.55,258.6 371.90,257.5 372.25,257.6 372.60,257.4 372.95,258.0 373.30,257.5 373.65,259.0 374.00,259.8 374.35,259.6 374.70,260.2 375.05,259.6 375.40,259.4 375.75,260.0 376.10,261.2 376.45,261.2 376.80,260.4 377.15,261.4 377.50,260.6 377.85,261.7 378.20,261.1 378.55,260.6 378.90,261.4 379.25,260.5 379.60,260.4 379.95,260.1 380.30,261.2 380.65,261.0 381.00,261.0 381.35,260.9 381.70,262.0 382.05,260.9 382.40,260.7 382.75,261.9 383.10,262.1 383.45,261.5 383.80,260.2 384.15,260.9 384.50,261.7 384.85,261.3 385.20,262.3 385.55,260.6 385.90,261.8 386.25,261.0 386.60,262.2 386.95,261.4 387.30,262.1 387.65,261.1 388.00,260.7 388.35,260.9 388.70,261.2 389.05,261.0 389.40,262.3 389.75,262.4 390.10,261.8 390.45,261.0 390.80,261.6 391.15,261.3 391.50,262.6 391.85,261.9 392.20,262.0 392.55,261.5 392.90,260.5 393.25,261.3 393.60,261.1 393.95,262.0 394.30,261.9 394.65,261.3 395.00,261.6 395.35,262.8 395.70,261.3 396.05,261.3 396.40,261.8 396.75,261.5 397.10,261.7 397.45,262.2 397.80,263.0 398.15,260.9 398.50,262.0 398.85,262.0 399.20,261.9 399.55,261.9 399.90,261.8 400.25,262.6 400.60,261.8 400.95,262.0 401.30,262.1 401.65,262.1 402.00,262.0 402.35,262.7 402.70,262.1 403.05,262.2 403.40,262.1 403.75,261.5 404.10,261.6 404.45,261.5 404.80,262.3 405.15,261.7 405.50,261.5 405.85,262.3 406.20,262.5 406.55,261.1 406.90,263.2 407.25,262.2 407.60,262.1 407.95,262.8 408.30,262.3 408.65,261.8 409.00,263.5 409.35,261.6 409.70,262.1 410.05,262.7 410.40,261.5 410.75,262.0 411.10,262.3 411.45,263.4 411.80,261.3 412.15,261.7 412.50,262.0 412.85,261.4 413.20,260.4 413.55,261.1 413.90,260.6 414.25,260.6 414.60,260.8 414.95,260.7 415.30,260.4 415.65,260.5 416.00,259.9 416.35,260.8 416.70,261.3 417.05,261.2 417.40,261.7 417.75,261.4 418.10,263.0 418.45,263.5 418.80,262.1 419.15,262.6 419.50,262.3 419.85,263.3 420.20,262.8 420.55,262.6 420.90,262.5 421.25,262.7 421.60,262.1 421.95,263.1 422.30,262.3 422.65,263.1 423.00,262.8 423.35,263.4 423.70,262.8 424.05,263.4 424.40,262.3 424.75,263.2 425.10,262.7 425.45,263.0 425.80,262.9 426.15,263.5 426.50,261.7 426.85,263.1 427.20,262.0 427.55,263.7 427.90,261.8 428.25,262.4 428.60,262.0 428.95,264.0 429.30,262.2 429.65,263.1 430.00,262.7 430.35,262.0 430.70,262.8 431.05,263.5 431.40,263.0 431.75,263.6 432.10,262.9 432.45,263.1 432.80,262.9 433.15,263.3 433.50,264.3 433.85,263.4 434.20,263.3 434.55,262.8 434.90,262.7 435.25,264.1 435.60,262.5 435.95,262.7 436.30,263.2 436.65,263.0 437.00,264.4 437.35,261.8 437.70,263.5 438.05,263.7 438.40,262.6 438.75,262.9 439.10,263.6 439.45,264.3 439.80,262.8 440.15,262.4 440.50,263.9 440.85,264.2 441.20,263.1 441.55,262.0 441.90,264.2 442.25,263.2 442.60,264.1 442.95,263.4 443.30,263.2 443.65,263.1 444.00,264.3 444.35,264.3 444.70,262.1 445.05,262.9 445.40,264.5 445.75,263.2 446.10,262.6 446.45,263.5 446.80,263.4 447.15,263.4 447.50,263.2 447.85,263.3"/>
<polyline fill="none" stroke="#0f548c" stroke-width="1.6" stroke-linejoin="round" points="45.00,203.6 45.35,204.2 45.70,203.1 46.05,203.5 46.40,203.5 46.75,204.7 47.10,203.8 47.45,203.3 47.80,203.8 48.15,203.6 48.50,204.1 48.85,203.5 49.20,204.5 49.55,204.0 49.90,202.8 50.25,202.4 50.60,203.4 50.95,203.0 51.30,202.4 51.65,201.2 52.00,200.8 52.35,202.6 52.70,202.9 53.05,202.8 53.40,201.0 53.75,202.9 54.10,201.5 54.45,202.2 54.80,202.2 55.15,201.1 55.50,201.2 55.85,199.9 56.20,200.8 56.55,200.0 56.90,201.9 57.25,201.5 57.60,202.1 57.95,201.6 58.30,200.7 58.65,201.5 59.00,200.8 59.35,201.6 59.70,201.3 60.05,200.1 60.40,200.9 60.75,200.9 61.10,200.5 61.45,201.5 61.80,202.1 62.15,200.3 62.50,200.3 62.85,198.6 63.20,200.3 63.55,200.0 63.90,198.5 64.25,200.5 64.60,200.7 64.95,199.6 65.30,199.8 65.65,199.3 66.00,200.7 66.35,198.7 66.70,199.7 67.05,201.6 67.40,200.0 67.75,200.3 68.10,199.7 68.45,198.8 68.80,199.8 69.15,200.1 69.50,198.9 69.85,200.0 70.20,200.8 70.55,200.6 70.90,198.4 71.25,198.9 71.60,198.3 71.95,200.6 72.30,200.2 72.65,200.3 73.00,199.0 73.35,198.7 73.70,199.8 74.05,199.9 74.40,199.1 74.75,200.0 75.10,200.4 75.45,200.1 75.80,199.1 76.15,198.2 76.50,199.8 76.85,200.2 77.20,199.9 77.55,199.8 77.90,199.7 78.25,200.9 78.60,200.4 78.95,200.6 79.30,199.7 79.65,200.1 80.00,200.8 80.35,199.9 80.70,199.8 81.05,200.7 81.40,202.0 81.75,201.3 82.10,202.4 82.45,201.2 82.80,201.1 83.15,200.3 83.50,201.0 83.85,202.8 84.20,202.0 84.55,202.4 84.90,202.5 85.25,202.0 85.60,201.9 85.95,202.2 86.30,202.8 86.65,202.7 87.00,202.8 87.35,202.6 87.70,201.9 88.05,202.4 88.40,201.9 88.75,203.7 89.10,201.1 89.45,202.8 89.80,205.1 90.15,202.9 90.50,202.3 90.85,203.3 91.20,204.6 91.55,203.4 91.90,204.2 92.25,203.9 92.60,203.6 92.95,206.7 93.30,204.2 93.65,203.8 94.00,203.9 94.35,204.8 94.70,204.9 95.05,205.3 95.40,204.9 95.75,203.7 96.10,205.5 96.45,204.9 96.80,205.0 97.15,204.1 97.50,205.0 97.85,205.0 98.20,205.7 98.55,204.6 98.90,206.0 99.25,206.1 99.60,205.2 99.95,205.7 100.30,205.6 100.65,207.2 101.00,204.4 101.35,206.3 101.70,205.3 102.05,206.4 102.40,207.6 102.75,206.4 103.10,207.1 103.45,206.3 103.80,208.7 104.15,207.9 104.50,208.1 104.85,206.1 105.20,206.3 105.55,208.2 105.90,207.2 106.25,207.1 106.60,207.7 106.95,206.3 107.30,208.1 107.65,207.4 108.00,207.7 108.35,206.6 108.70,207.4 109.05,206.0 109.40,206.9 109.75,206.4 110.10,205.5 110.45,204.6 110.80,204.6 111.15,202.2 111.50,206.0 111.85,205.8 112.20,206.7 112.55,206.9 112.90,206.3 113.25,207.2 113.60,208.4 113.95,209.1 114.30,207.4 114.65,207.2 115.00,209.3 115.35,207.3 115.70,209.8 116.05,208.1 116.40,207.4 116.75,209.0 117.10,209.6 117.45,206.9 117.80,209.5 118.15,207.9 118.50,209.4 118.85,207.8 119.20,206.8 119.55,208.6 119.90,209.0 120.25,209.9 120.60,209.6 120.95,208.7 121.30,207.9 121.65,207.7 122.00,207.8 122.35,207.3 122.70,207.6 123.05,205.6 123.40,207.8 123.75,207.5 124.10,209.6 124.45,207.9 124.80,206.6 125.15,207.1 125.50,205.1 125.85,204.8 126.20,202.7 126.55,204.2 126.90,202.4 127.25,200.8 127.60,202.6 127.95,204.6 128.30,205.3 128.65,205.9 129.00,205.2 129.35,205.6 129.70,206.3 130.05,206.9 130.40,205.4 130.75,204.9 131.10,206.5 131.45,204.3 131.80,205.4 132.15,204.1 132.50,203.9 132.85,203.9 133.20,202.0 133.55,200.8 133.90,198.0 134.25,197.1 134.60,198.0 134.95,199.2 135.30,199.8 135.65,201.1 136.00,199.7 136.35,199.8 136.70,200.4 137.05,199.5 137.40,199.2 137.75,198.2 138.10,199.8 138.45,197.9 138.80,199.0 139.15,197.2 139.50,199.2 139.85,197.2 140.20,198.6 140.55,196.2 140.90,196.9 141.25,197.7 141.60,195.4 141.95,195.5 142.30,194.6 142.65,193.1 143.00,195.7 143.35,196.4 143.70,195.5 144.05,197.2 144.40,196.2 144.75,196.1 145.10,197.0 145.45,196.4 145.80,199.0 146.15,195.7 146.50,197.7 146.85,197.9 147.20,195.4 147.55,196.0 147.90,198.5 148.25,198.4 148.60,200.1 148.95,201.7 149.30,201.3 149.65,201.5 150.00,200.8 150.35,203.7 150.70,202.9 151.05,203.7 151.40,203.3 151.75,201.3 152.10,203.3 152.45,202.2 152.80,201.4 153.15,199.2 153.50,199.2 153.85,198.1 154.20,196.8 154.55,194.0 154.90,192.3 155.25,188.4 155.60,184.8 155.95,182.2 156.30,184.8 156.65,187.3 157.00,188.8 157.35,194.0 157.70,197.1 158.05,199.8 158.40,199.9 158.75,200.8 159.10,200.9 159.45,202.3 159.80,201.3 160.15,200.8 160.50,200.0 160.85,200.2 161.20,198.3 161.55,197.2 161.90,200.0 162.25,200.2 162.60,202.4 162.95,203.5 163.30,204.9 163.65,205.2 164.00,204.2 164.35,204.8 164.70,204.0 165.05,206.7 165.40,205.8 165.75,206.8 166.10,205.4 166.45,204.1 166.80,207.2 167.15,206.1 167.50,206.2 167.85,206.2 168.20,206.8 168.55,206.8 168.90,205.0 169.25,207.3 169.60,206.0 169.95,206.1 170.30,208.0 170.65,207.3 171.00,206.3 171.35,205.0 171.70,206.8 172.05,207.1 172.40,206.6 172.75,205.7 173.10,206.1 173.45,205.7 173.80,207.0 174.15,207.5 174.50,207.7 174.85,206.2 175.20,207.1 175.55,207.4 175.90,206.5 176.25,206.8 176.60,208.7 176.95,207.1 177.30,207.7 177.65,206.6 178.00,207.0 178.35,205.6 178.70,207.0 179.05,208.1 179.40,208.9 179.75,208.1 180.10,207.7 180.45,207.2 180.80,206.7 181.15,207.1 181.50,207.7 181.85,206.6 182.20,208.1 182.55,206.5 182.90,205.8 183.25,206.5 183.60,206.0 183.95,206.3 184.30,208.4 184.65,207.4 185.00,207.8 185.35,208.6 185.70,208.7 186.05,207.3 186.40,208.9 186.75,208.1 187.10,207.9 187.45,208.3 187.80,206.7 188.15,207.3 188.50,208.0 188.85,208.6 189.20,207.9 189.55,208.1 189.90,209.1 190.25,209.5 190.60,209.1 190.95,209.5 191.30,208.2 191.65,208.3 192.00,208.9 192.35,208.5 192.70,208.3 193.05,210.2 193.40,208.7 193.75,208.1 194.10,209.4 194.45,210.6 194.80,209.2 195.15,210.3 195.50,208.9 195.85,208.9 196.20,208.8 196.55,209.3 196.90,211.1 197.25,208.6 197.60,211.0 197.95,208.8 198.30,209.5 198.65,210.5 199.00,210.4 199.35,210.1 199.70,208.5 200.05,210.3 200.40,209.2 200.75,212.3 201.10,209.9 201.45,210.3 201.80,209.2 202.15,209.8 202.50,209.1 202.85,211.0 203.20,210.0 203.55,210.6 203.90,209.5 204.25,209.5 204.60,210.8 204.95,208.6 205.30,207.5 205.65,208.8 206.00,206.7 206.35,206.5 206.70,206.8 207.05,204.6 207.40,205.7 207.75,204.5 208.10,207.0 208.45,207.8 208.80,207.3 209.15,208.4 209.50,208.7 209.85,210.2 210.20,211.5 210.55,209.7 210.90,212.0 211.25,210.3 211.60,210.9 211.95,210.3 212.30,213.7 212.65,212.1 213.00,212.3 213.35,211.6 213.70,213.2 214.05,210.6 214.40,212.4 214.75,214.4 215.10,212.2 215.45,212.6 215.80,213.2 216.15,212.0 216.50,212.8 216.85,213.6 217.20,213.0 217.55,213.2 217.90,212.6 218.25,213.2 218.60,213.1 218.95,214.3 219.30,213.7 219.65,212.9 220.00,211.0 220.35,213.7 220.70,213.8 221.05,212.4 221.40,211.5 221.75,212.2 222.10,214.0 222.45,212.3 222.80,212.9 223.15,213.4 223.50,214.3 223.85,213.3 224.20,213.2 224.55,212.8 224.90,214.7 225.25,214.2 225.60,213.2 225.95,212.1 226.30,212.6 226.65,213.8 227.00,212.6 227.35,213.9 227.70,213.3 228.05,213.0 228.40,212.9 228.75,212.2 229.10,210.4 229.45,210.4 229.80,212.7 230.15,210.2 230.50,211.6 230.85,213.4 231.20,212.8 231.55,212.5 231.90,212.2 232.25,213.9 232.60,214.4 232.95,214.8 233.30,213.7 233.65,214.5 234.00,212.8 234.35,213.8 234.70,213.1 235.05,213.9 235.40,214.4 235.75,214.7 236.10,213.0 236.45,214.9 236.80,213.4 237.15,213.0 237.50,213.7 237.85,212.6 238.20,213.9 238.55,214.1 238.90,213.7 239.25,214.4 239.60,213.7 239.95,213.9 240.30,212.7 240.65,214.0 241.00,213.3 241.35,213.6 241.70,213.9 242.05,214.2 242.40,212.6 242.75,212.7 243.10,213.8 243.45,214.4 243.80,214.4 244.15,214.8 244.50,215.2 244.85,214.5 245.20,214.1 245.55,213.2 245.90,213.3 246.25,213.7 246.60,214.3 246.95,214.3 247.30,214.1 247.65,214.0 248.00,214.7 248.35,214.3 248.70,214.4 249.05,214.4 249.40,213.7 249.75,213.3 250.10,214.6 250.45,214.5 250.80,214.0 251.15,213.8 251.50,216.1 251.85,213.6 252.20,214.0 252.55,214.4 252.90,213.2 253.25,214.3 253.60,215.8 253.95,215.0 254.30,214.8 254.65,214.7 255.00,214.3 255.35,215.1 255.70,214.1 256.05,213.9 256.40,214.3 256.75,215.0 257.10,214.5 257.45,214.8 257.80,212.5 258.15,215.3 258.50,216.3 258.85,215.4 259.20,214.0 259.55,213.5 259.90,214.5 260.25,213.4 260.60,214.9 260.95,213.8 261.30,215.1 261.65,215.4 262.00,212.5 262.35,214.5 262.70,213.7 263.05,213.0 263.40,213.7 263.75,214.0 264.10,215.1 264.45,212.9 264.80,215.0 265.15,215.8 265.50,214.6 265.85,214.5 266.20,214.0 266.55,213.0 266.90,214.4 267.25,214.2 267.60,214.4 267.95,216.0 268.30,214.3 268.65,214.0 269.00,214.9 269.35,212.4 269.70,212.5 270.05,213.1 270.40,212.8 270.75,213.9 271.10,213.0 271.45,214.7 271.80,214.5 272.15,213.8 272.50,212.7 272.85,213.5 273.20,213.6 273.55,212.0 273.90,213.1 274.25,213.4 274.60,212.9 274.95,214.0 275.30,213.6 275.65,211.8 276.00,212.6 276.35,211.7 276.70,212.9 277.05,211.6 277.40,213.1 277.75,212.5 278.10,213.0 278.45,212.0 278.80,210.8 279.15,213.4 279.50,211.6 279.85,212.8 280.20,211.7 280.55,211.7 280.90,212.3 281.25,210.6 281.60,211.0 281.95,208.0 282.30,209.4 282.65,207.8 283.00,207.3 283.35,207.0 283.70,207.2 284.05,208.4 284.40,205.8 284.75,208.0 285.10,208.0 285.45,210.2 285.80,209.4 286.15,210.6 286.50,210.3 286.85,211.5 287.20,212.1 287.55,211.1 287.90,211.6 288.25,210.5 288.60,212.1 288.95,212.6 289.30,211.4 289.65,212.9 290.00,210.2 290.35,210.4 290.70,210.9 291.05,211.7 291.40,212.1 291.75,212.1 292.10,212.1 292.45,212.9 292.80,211.9 293.15,211.2 293.50,211.3 293.85,214.2 294.20,210.5 294.55,212.4 294.90,213.8 295.25,213.0 295.60,212.0 295.95,212.7 296.30,213.5 296.65,213.9 297.00,212.1 297.35,213.6 297.70,213.2 298.05,214.0 298.40,214.3 298.75,212.9 299.10,212.0 299.45,213.7 299.80,214.9 300.15,214.0 300.50,213.7 300.85,215.6 301.20,212.7 301.55,214.4 301.90,213.2 302.25,213.8 302.60,213.8 302.95,215.1 303.30,213.0 303.65,213.4 304.00,212.5 304.35,214.3 304.70,213.6 305.05,214.3 305.40,213.1 305.75,213.7 306.10,214.9 306.45,213.9 306.80,214.6 307.15,214.5 307.50,213.8 307.85,212.8 308.20,214.9 308.55,214.3 308.90,215.0 309.25,212.4 309.60,212.7 309.95,212.3 310.30,213.4 310.65,215.1 311.00,214.7 311.35,214.2 311.70,214.3 312.05,214.9 312.40,214.0 312.75,214.6 313.10,214.4 313.45,212.4 313.80,213.9 314.15,215.4 314.50,213.9 314.85,214.2 315.20,213.8 315.55,213.9 315.90,215.3 316.25,214.1 316.60,213.5 316.95,211.7 317.30,213.8 317.65,212.7 318.00,212.8 318.35,215.0 318.70,215.0 319.05,212.7 319.40,215.1 319.75,214.8 320.10,213.7 320.45,215.0 320.80,213.0 321.15,213.3 321.50,213.2 321.85,213.4 322.20,215.1 322.55,213.2 322.90,213.4 323.25,213.6 323.60,214.5 323.95,214.1 324.30,215.1 324.65,213.8 325.00,213.3 325.35,213.9 325.70,214.4 326.05,213.6 326.40,214.6 326.75,215.9 327.10,213.8 327.45,214.3 327.80,215.3 328.15,213.5 328.50,213.1 328.85,212.7 329.20,213.6 329.55,213.3 329.90,212.4 330.25,212.5 330.60,213.7 330.95,213.7 331.30,212.2 331.65,213.7 332.00,214.0 332.35,214.7 332.70,214.0 333.05,213.7 333.40,213.9 333.75,212.8 334.10,214.3 334.45,213.9 334.80,214.8 335.15,213.5 335.50,214.0 335.85,213.6 336.20,213.5 336.55,215.0 336.90,214.0 337.25,214.7 337.60,213.4 337.95,214.4 338.30,212.9 338.65,213.9 339.00,213.8 339.35,214.7 339.70,214.3 340.05,214.0 340.40,214.8 340.75,214.3 341.10,214.5 341.45,214.7 341.80,213.9 342.15,213.7 342.50,214.2 342.85,213.5 343.20,214.1 343.55,214.7 343.90,214.4 344.25,213.3 344.60,212.5 344.95,213.5 345.30,213.4 345.65,214.3 346.00,213.0 346.35,213.1 346.70,213.8 347.05,212.7 347.40,212.8 347.75,214.3 348.10,213.9 348.45,213.0 348.80,212.5 349.15,211.2 349.50,212.2 349.85,211.4 350.20,211.1 350.55,210.0 350.90,209.9 351.25,209.4 351.60,209.7 351.95,210.8 352.30,210.2 352.65,208.8 353.00,209.5 353.35,209.1 353.70,209.8 354.05,210.9 354.40,210.7 354.75,209.8 355.10,210.4 355.45,209.3 355.80,208.5 356.15,208.3 356.50,208.5 356.85,210.1 357.20,207.4 357.55,209.3 357.90,209.0 358.25,207.5 358.60,207.4 358.95,206.9 359.30,207.6 359.65,208.5 360.00,208.3 360.35,209.5 360.70,210.1 361.05,209.7 361.40,210.0 361.75,209.9 362.10,210.5 362.45,209.5 362.80,210.9 363.15,210.9 363.50,210.1 363.85,212.8 364.20,210.2 364.55,210.4 364.90,211.5 365.25,209.7 365.60,210.7 365.95,210.2 366.30,210.8 366.65,211.6 367.00,212.0 367.35,212.8 367.70,212.7 368.05,213.1 368.40,212.7 368.75,211.9 369.10,213.3 369.45,212.1 369.80,212.0 370.15,214.0 370.50,213.4 370.85,213.0 371.20,213.6 371.55,213.8 371.90,211.9 372.25,213.1 372.60,212.2 372.95,213.4 373.30,212.8 373.65,214.5 374.00,213.9 374.35,212.8 374.70,213.5 375.05,212.5 375.40,213.6 375.75,214.0 376.10,213.8 376.45,212.0 376.80,213.3 377.15,214.1 377.50,213.9 377.85,214.7 378.20,212.6 378.55,214.2 378.90,213.2 379.25,214.0 379.60,214.2 379.95,214.4 380.30,213.4 380.65,214.0 381.00,212.9 381.35,212.7 381.70,214.4 382.05,213.9 382.40,212.6 382.75,213.3 383.10,214.0 383.45,215.4 383.80,214.9 384.15,214.7 384.50,212.6 384.85,214.0 385.20,214.5 385.55,214.5 385.90,214.5 386.25,214.0 386.60,215.7 386.95,215.4 387.30,214.1 387.65,213.4 388.00,216.0 388.35,213.8 388.70,215.3 389.05,215.9 389.40,213.5 389.75,214.5 390.10,214.0 390.45,214.8 390.80,214.6 391.15,216.0 391.50,214.9 391.85,214.4 392.20,215.3 392.55,214.2 392.90,214.1 393.25,216.3 393.60,213.7 393.95,214.0 394.30,214.5 394.65,213.6 395.00,212.7 395.35,215.4 395.70,213.8 396.05,214.0 396.40,214.2 396.75,213.7 397.10,213.6 397.45,214.7 397.80,216.6 398.15,215.2 398.50,215.2 398.85,213.3 399.20,214.6 399.55,213.6 399.90,215.3 400.25,214.4 400.60,214.6 400.95,214.6 401.30,214.1 401.65,213.4 402.00,215.1 402.35,213.5 402.70,213.7 403.05,214.4 403.40,214.1 403.75,214.9 404.10,215.6 404.45,214.9 404.80,214.9 405.15,214.8 405.50,215.5 405.85,213.2 406.20,215.1 406.55,214.0 406.90,213.7 407.25,214.8 407.60,214.5 407.95,215.3 408.30,215.7 408.65,212.8 409.00,214.8 409.35,216.5 409.70,215.6 410.05,216.1 410.40,214.9 410.75,213.6 411.10,213.9 411.45,215.4 411.80,215.6 412.15,214.2 412.50,214.5 412.85,214.9 413.20,213.1 413.55,214.2 413.90,215.7 414.25,216.1 414.60,213.9 414.95,215.4 415.30,213.1 415.65,212.7 416.00,211.3 416.35,214.0 416.70,212.9 417.05,215.4 417.40,213.9 417.75,214.0 418.10,212.5 418.45,215.6 418.80,214.2 419.15,214.5 419.50,212.9 419.85,215.7 420.20,215.9 420.55,214.6 420.90,215.2 421.25,215.5 421.60,216.1 421.95,215.4 422.30,216.8 422.65,215.1 423.00,214.8 423.35,215.0 423.70,213.2 424.05,214.7 424.40,216.3 424.75,215.7 425.10,214.8 425.45,215.8 425.80,213.8 426.15,215.3 426.50,216.0 426.85,216.1 427.20,214.9 427.55,216.4 427.90,217.2 428.25,215.2 428.60,216.3 428.95,214.3 429.30,214.0 429.65,216.2 430.00,215.7 430.35,215.9 430.70,215.2 431.05,215.5 431.40,216.4 431.75,217.2 432.10,215.6 432.45,214.4 432.80,216.9 433.15,216.3 433.50,216.4 433.85,216.0 434.20,217.8 434.55,215.9 434.90,216.3 435.25,214.3 435.60,215.4 435.95,215.3 436.30,215.9 436.65,216.2 437.00,215.3 437.35,217.4 437.70,215.1 438.05,215.6 438.40,216.2 438.75,215.0 439.10,216.5 439.45,216.6 439.80,215.8 440.15,217.7 440.50,216.2 440.85,216.3 441.20,215.3 441.55,214.7 441.90,215.6 442.25,215.9 442.60,215.8 442.95,216.8 443.30,214.2 443.65,215.2 444.00,214.7 444.35,217.4 444.70,215.8 445.05,215.8 445.40,215.3 445.75,217.0 446.10,215.9 446.45,216.5 446.80,214.6 447.15,217.3 447.50,216.7 447.85,216.8"/>
<polyline fill="none" stroke="#0f528a" stroke-width="1.4" stroke-linejoin="round" points="45.00,173.6 45.35,173.1 45.70,173.1 46.05,173.4 46.40,173.2 46.75,173.0 47.10,173.1 47.45,172.9 47.80,173.3 48.15,173.3 48.50,173.0 48.85,173.6 49.20,172.4 49.55,172.8 49.90,173.5 50.25,172.7 50.60,172.3 50.95,173.3 51.30,173.0 51.65,172.4 52.00,173.1 52.35,172.4 52.70,172.3 53.05,172.7 53.40,172.6 53.75,172.3 54.10,172.6 54.45,172.3 54.80,172.7 55.15,172.7 55.50,172.9 55.85,172.5 56.20,172.2 56.55,172.2 56.90,172.5 57.25,173.1 57.60,172.9 57.95,172.3 58.30,172.9 58.65,172.1 59.00,172.9 59.35,172.4 59.70,172.8 60.05,172.7 60.40,172.4 60.75,172.6 61.10,172.1 61.45,172.4 61.80,172.8 62.15,173.9 62.50,172.7 62.85,172.5 63.20,172.1 63.55,172.8 63.90,171.8 64.25,172.1 64.60,172.5 64.95,172.0 65.30,172.9 65.65,172.7 66.00,172.2 66.35,172.2 66.70,171.9 67.05,171.8 67.40,172.5 67.75,172.5 68.10,172.4 68.45,172.4 68.80,172.1 69.15,172.4 69.50,171.7 69.85,172.2 70.20,172.7 70.55,172.6 70.90,171.9 71.25,171.9 71.60,172.4 71.95,172.4 72.30,171.2 72.65,171.4 73.00,171.5 73.35,171.7 73.70,170.9 74.05,171.4 74.40,171.1 74.75,172.2 75.10,171.6 75.45,171.6 75.80,171.6 76.15,172.3 76.50,172.2 76.85,171.7 77.20,172.3 77.55,171.8 77.90,172.0 78.25,171.9 78.60,171.9 78.95,172.2 79.30,172.1 79.65,172.6 80.00,172.7 80.35,172.4 80.70,172.1 81.05,172.8 81.40,171.8 81.75,171.8 82.10,172.8 82.45,172.8 82.80,172.9 83.15,172.5 83.50,172.1 83.85,172.4 84.20,172.8 84.55,172.3 84.90,172.4 85.25,172.1 85.60,172.2 85.95,172.9 86.30,172.8 86.65,172.2 87.00,172.3 87.35,172.4 87.70,172.8 88.05,172.2 88.40,172.6 88.75,171.9 89.10,172.2 89.45,172.8 89.80,173.0 90.15,172.2 90.50,172.4 90.85,172.9 91.20,172.5 91.55,172.5 91.90,172.8 92.25,172.7 92.60,173.0 92.95,172.9 93.30,172.4 93.65,172.6 94.00,172.6 94.35,172.1 94.70,172.2 95.05,172.9 95.40,172.0 95.75,172.9 96.10,172.7 96.45,172.5 96.80,172.7 97.15,172.7 97.50,172.9 97.85,172.3 98.20,172.4 98.55,172.4 98.90,173.1 99.25,172.8 99.60,172.1 99.95,172.3 100.30,172.1 100.65,172.4 101.00,172.4 101.35,173.1 101.70,171.7 102.05,172.7 102.40,172.4 102.75,172.0 103.10,172.2 103.45,172.1 103.80,172.2 104.15,172.5 104.50,171.6 104.85,172.6 105.20,172.0 105.55,172.6 105.90,172.2 106.25,172.5 106.60,172.2 106.95,172.3 107.30,171.9 107.65,171.5 108.00,172.0 108.35,171.8 108.70,172.1 109.05,170.4 109.40,170.6 109.75,170.4 110.10,168.9 110.45,168.5 110.80,168.8 111.15,168.4 111.50,168.1 111.85,169.6 112.20,170.2 112.55,170.7 112.90,170.9 113.25,171.1 113.60,170.9 113.95,171.1 114.30,171.6 114.65,171.4 115.00,172.0 115.35,171.3 115.70,170.5 116.05,171.2 116.40,171.4 116.75,171.4 117.10,171.3 117.45,170.9 117.80,171.7 118.15,170.9 118.50,171.4 118.85,171.0 119.20,170.6 119.55,171.4 119.90,170.0 120.25,170.5 120.60,170.8 120.95,170.5 121.30,170.8 121.65,170.4 122.00,170.2 122.35,171.0 122.70,170.0 123.05,169.9 123.40,169.5 123.75,169.5 124.10,169.9 124.45,169.7 124.80,169.4 125.15,169.0 125.50,169.3 125.85,168.3 126.20,168.5 126.55,168.1 126.90,167.4 127.25,167.1 127.60,165.9 127.95,164.9 128.30,165.3 128.65,165.1 129.00,165.9 129.35,166.1 129.70,166.8 130.05,166.9 130.40,167.1 130.75,167.4 131.10,166.4 131.45,166.3 131.80,166.0 132.15,164.5 132.50,164.9 132.85,165.1 133.20,165.0 133.55,164.1 133.90,164.1 134.25,163.3 134.60,161.7 134.95,161.4 135.30,160.9 135.65,160.6 136.00,160.6 136.35,162.0 136.70,161.8 137.05,161.9 137.40,162.0 137.75,161.7 138.10,162.2 138.45,161.9 138.80,161.9 139.15,161.5 139.50,160.9 139.85,161.0 140.20,161.2 140.55,160.7 140.90,161.7 141.25,160.5 141.60,160.2 141.95,160.7 142.30,160.5 142.65,160.1 143.00,160.0 143.35,160.1 143.70,160.2 144.05,160.2 144.40,159.8 144.75,160.0 145.10,160.1 145.45,160.1 145.80,158.7 146.15,159.3 146.50,159.0 146.85,158.7 147.20,158.2 147.55,157.8 147.90,157.3 148.25,157.3 148.60,158.2 148.95,159.8 149.30,159.8 149.65,160.7 150.00,161.7 150.35,161.6 150.70,161.2 151.05,162.5 151.40,162.7 151.75,163.1 152.10,163.7 152.45,163.5 152.80,163.1 153.15,163.3 153.50,162.8 153.85,162.2 154.20,161.6 154.55,160.6 154.90,159.1 155.25,157.1 155.60,154.6 155.95,150.8 156.30,146.8 156.65,144.3 157.00,142.4 157.35,143.9 157.70,147.4 158.05,151.4 158.40,154.8 158.75,157.5 159.10,159.0 159.45,160.8 159.80,161.0 160.15,162.0 160.50,161.1 160.85,161.3 161.20,161.8 161.55,161.3 161.90,161.3 162.25,162.3 162.60,162.7 162.95,163.9 163.30,163.7 163.65,164.8 164.00,165.1 164.35,165.8 164.70,166.1 165.05,165.7 165.40,166.7 165.75,166.0 166.10,165.7 166.45,165.6 166.80,167.1 167.15,166.7 167.50,166.6 167.85,166.6 168.20,166.6 168.55,167.5 168.90,167.1 169.25,167.8 169.60,167.2 169.95,166.5 170.30,167.7 170.65,167.3 171.00,167.5 171.35,168.2 171.70,167.6 172.05,168.1 172.40,167.8 172.75,167.6 173.10,168.1 173.45,167.7 173.80,168.4 174.15,168.4 174.50,168.1 174.85,168.4 175.20,168.4 175.55,168.1 175.90,168.6 176.25,168.2 176.60,168.6 176.95,168.1 177.30,168.5 177.65,168.6 178.00,168.3 178.35,168.4 178.70,168.4 179.05,168.9 179.40,168.5 179.75,168.9 180.10,169.3 180.45,169.0 180.80,168.3 181.15,169.0 181.50,169.3 181.85,168.9 182.20,169.4 182.55,169.3 182.90,169.3 183.25,169.1 183.60,169.0 183.95,169.2 184.30,169.3 184.65,169.5 185.00,169.5 185.35,169.3 185.70,169.5 186.05,169.7 186.40,169.0 186.75,169.3 187.10,169.4 187.45,169.6 187.80,169.6 188.15,169.7 188.50,169.5 188.85,170.1 189.20,170.0 189.55,169.4 189.90,170.0 190.25,169.6 190.60,170.7 190.95,169.9 191.30,170.0 191.65,170.2 192.00,170.2 192.35,170.2 192.70,170.8 193.05,170.4 193.40,170.7 193.75,170.8 194.10,170.1 194.45,171.1 194.80,170.7 195.15,170.9 195.50,170.3 195.85,170.9 196.20,170.8 196.55,170.5 196.90,171.5 197.25,170.9 197.60,170.6 197.95,170.8 198.30,171.1 198.65,171.2 199.00,171.0 199.35,171.2 199.70,171.3 200.05,170.4 200.40,170.7 200.75,170.5 201.10,170.9 201.45,171.4 201.80,171.1 202.15,170.5 202.50,170.7 202.85,171.1 203.20,170.6 203.55,170.6 203.90,170.7 204.25,169.8 204.60,170.6 204.95,170.1 205.30,169.8 205.65,168.7 206.00,168.1 206.35,167.2 206.70,166.4 207.05,165.1 207.40,163.9 207.75,163.5 208.10,163.0 208.45,162.7 208.80,163.7 209.15,165.8 209.50,166.4 209.85,168.1 210.20,169.2 210.55,169.2 210.90,169.9 211.25,170.4 211.60,170.4 211.95,170.6 212.30,171.0 212.65,171.5 213.00,171.2 213.35,171.3 213.70,171.3 214.05,171.1 214.40,172.1 214.75,170.8 215.10,171.5 215.45,171.9 215.80,171.3 216.15,172.0 216.50,172.3 216.85,171.6 217.20,172.0 217.55,171.5 217.90,172.1 218.25,172.0 218.60,172.1 218.95,172.5 219.30,172.2 219.65,172.5 220.00,172.3 220.35,171.7 220.70,172.2 221.05,172.3 221.40,171.6 221.75,172.6 222.10,172.2 222.45,172.3 222.80,171.9 223.15,172.2 223.50,172.3 223.85,172.1 224.20,172.2 224.55,171.5 224.90,172.7 225.25,171.8 225.60,171.4 225.95,171.8 226.30,171.9 226.65,172.3 227.00,171.8 227.35,172.2 227.70,171.7 228.05,172.6 228.40,171.8 228.75,171.9 229.10,170.2 229.45,170.0 229.80,168.5 230.15,168.6 230.50,168.9 230.85,168.9 231.20,170.0 231.55,170.7 231.90,171.0 232.25,171.6 232.60,171.6 232.95,171.6 233.30,172.2 233.65,172.4 234.00,171.7 234.35,172.0 234.70,172.3 235.05,172.2 235.40,172.0 235.75,172.6 236.10,172.6 236.45,172.5 236.80,172.2 237.15,173.0 237.50,172.9 237.85,172.2 238.20,172.3 238.55,172.7 238.90,172.0 239.25,172.5 239.60,172.3 239.95,172.1 240.30,172.2 240.65,171.8 241.00,172.1 241.35,171.6 241.70,173.1 242.05,172.8 242.40,172.7 242.75,172.4 243.10,172.7 243.45,172.8 243.80,172.7 244.15,172.6 244.50,172.0 244.85,172.5 245.20,172.1 245.55,171.9 245.90,171.9 246.25,172.4 246.60,172.7 246.95,171.8 247.30,172.9 247.65,172.8 248.00,172.1 248.35,172.1 248.70,172.2 249.05,172.6 249.40,172.1 249.75,171.9 250.10,172.4 250.45,171.5 250.80,172.3 251.15,172.7 251.50,172.4 251.85,172.5 252.20,172.4 252.55,172.5 252.90,172.3 253.25,171.9 253.60,172.1 253.95,172.2 254.30,172.7 254.65,172.8 255.00,172.4 255.35,171.9 255.70,171.9 256.05,172.1 256.40,172.7 256.75,172.3 257.10,172.2 257.45,171.9 257.80,172.5 258.15,172.3 258.50,172.1 258.85,172.2 259.20,172.7 259.55,172.1 259.90,172.7 260.25,172.6 260.60,172.2 260.95,172.4 261.30,172.1 261.65,171.8 262.00,172.0 262.35,171.8 262.70,172.3 263.05,172.1 263.40,172.3 263.75,172.4 264.10,171.0 264.45,172.2 264.80,171.4 265.15,172.1 265.50,171.8 265.85,172.1 266.20,172.5 266.55,171.4 266.90,172.1 267.25,172.0 267.60,171.4 267.95,172.2 268.30,172.0 268.65,171.8 269.00,171.7 269.35,173.1 269.70,171.8 270.05,171.3 270.40,171.6 270.75,171.8 271.10,171.8 271.45,171.9 271.80,171.6 272.15,172.1 272.50,171.7 272.85,171.4 273.20,171.6 273.55,171.7 273.90,172.2 274.25,172.0 274.60,171.7 274.95,171.8 275.30,171.9 275.65,172.5 276.00,171.5 276.35,171.9 276.70,172.0 277.05,171.3 277.40,171.7 277.75,171.7 278.10,171.4 278.45,171.7 278.80,171.8 279.15,171.8 279.50,171.3 279.85,171.3 280.20,172.0 280.55,170.6 280.90,170.9 281.25,170.9 281.60,170.4 281.95,170.2 282.30,169.5 282.65,169.2 283.00,168.7 283.35,167.4 283.70,166.7 284.05,165.8 284.40,164.9 284.75,164.5 285.10,163.7 285.45,164.4 285.80,165.1 286.15,165.8 286.50,166.3 286.85,166.3 287.20,167.9 287.55,167.7 287.90,168.5 288.25,169.6 288.60,168.9 288.95,169.8 289.30,169.8 289.65,169.7 290.00,169.5 290.35,170.0 290.70,169.7 291.05,170.3 291.40,170.3 291.75,169.4 292.10,169.8 292.45,169.9 292.80,169.7 293.15,169.7 293.50,170.3 293.85,170.2 294.20,169.8 294.55,170.3 294.90,170.8 295.25,170.3 295.60,170.5 295.95,171.4 296.30,171.4 296.65,170.5 297.00,170.6 297.35,171.3 297.70,170.8 298.05,171.2 298.40,171.2 298.75,171.6 299.10,170.5 299.45,170.7 299.80,171.0 300.15,171.8 300.50,171.5 300.85,170.9 301.20,171.7 301.55,171.8 301.90,171.5 302.25,171.5 302.60,171.8 302.95,172.1 303.30,171.7 303.65,171.9 304.00,171.7 304.35,171.6 304.70,171.4 305.05,171.8 305.40,171.7 305.75,171.7 306.10,172.1 306.45,172.0 306.80,172.1 307.15,171.3 307.50,172.1 307.85,171.7 308.20,171.6 308.55,171.6 308.90,172.4 309.25,172.3 309.60,171.7 309.95,171.6 310.30,172.0 310.65,171.9 311.00,172.6 311.35,171.6 311.70,171.5 312.05,172.0 312.40,172.1 312.75,172.2 313.10,172.4 313.45,172.9 313.80,172.1 314.15,172.0 314.50,171.6 314.85,172.3 315.20,172.5 315.55,172.2 315.90,172.7 316.25,172.3 316.60,172.8 316.95,172.4 317.30,171.9 317.65,172.1 318.00,171.8 318.35,171.7 318.70,172.4 319.05,172.6 319.40,173.0 319.75,172.3 320.10,172.2 320.45,171.9 320.80,172.7 321.15,172.4 321.50,172.1 321.85,172.5 322.20,172.5 322.55,171.6 322.90,172.5 323.25,172.3 323.60,172.1 323.95,172.0 324.30,172.8 324.65,172.7 325.00,172.7 325.35,171.7 325.70,171.8 326.05,172.3 326.40,171.5 326.75,171.6 327.10,171.2 327.45,172.4 327.80,172.0 328.15,171.7 328.50,171.4 328.85,170.8 329.20,170.3 329.55,169.9 329.90,168.4 330.25,168.1 330.60,167.0 330.95,167.2 331.30,168.9 331.65,169.3 332.00,170.3 332.35,170.4 332.70,170.0 333.05,171.1 333.40,170.5 333.75,171.4 334.10,170.4 334.45,170.3 334.80,171.0 335.15,171.0 335.50,170.9 335.85,170.4 336.20,171.1 336.55,170.2 336.90,170.5 337.25,170.4 337.60,170.5 337.95,170.8 338.30,170.3 338.65,170.6 339.00,170.6 339.35,169.7 339.70,169.9 340.05,170.1 340.40,169.9 340.75,170.2 341.10,169.4 341.45,170.2 341.80,170.2 342.15,169.8 342.50,169.3 342.85,169.7 343.20,169.5 343.55,169.8 343.90,169.5 344.25,169.7 344.60,169.3 344.95,169.9 345.30,168.5 345.65,168.9 346.00,169.3 346.35,168.5 346.70,169.2 347.05,168.4 347.40,168.8 347.75,168.3 348.10,168.3 348.45,168.4 348.80,168.2 349.15,167.9 349.50,168.5 349.85,167.4 350.20,166.6 350.55,166.6 350.90,165.8 351.25,165.0 351.60,164.3 351.95,162.8 352.30,163.6 352.65,164.3 353.00,164.6 353.35,165.4 353.70,164.7 354.05,165.9 354.40,166.9 354.75,165.7 355.10,166.2 355.45,166.5 355.80,166.5 356.15,166.8 356.50,165.5 356.85,166.0 357.20,166.0 357.55,164.9 357.90,164.9 358.25,165.0 358.60,164.0 358.95,162.8 359.30,160.6 359.65,160.4 360.00,159.8 360.35,159.3 360.70,159.7 361.05,161.7 361.40,161.5 361.75,162.3 362.10,163.5 362.45,164.0 362.80,164.4 363.15,164.8 363.50,165.2 363.85,164.9 364.20,164.0 364.55,163.9 364.90,163.5 365.25,162.6 365.60,163.0 365.95,163.3 366.30,163.5 366.65,164.8 367.00,166.2 367.35,166.6 367.70,166.5 368.05,167.2 368.40,166.9 368.75,166.8 369.10,167.6 369.45,167.6 369.80,167.8 370.15,167.7 370.50,168.0 370.85,167.7 371.20,168.2 371.55,168.4 371.90,168.1 372.25,168.5 372.60,167.7 372.95,168.1 373.30,169.0 373.65,169.1 374.00,168.7 374.35,168.6 374.70,168.3 375.05,168.9 375.40,169.1 375.75,168.4 376.10,169.2 376.45,169.2 376.80,169.3 377.15,168.8 377.50,169.5 377.85,168.8 378.20,169.9 378.55,169.5 378.90,169.1 379.25,170.0 379.60,170.0 379.95,169.4 380.30,170.5 380.65,169.4 381.00,169.9 381.35,170.3 381.70,169.1 382.05,170.3 382.40,170.0 382.75,170.0 383.10,169.7 383.45,170.2 383.80,169.8 384.15,169.8 384.50,170.0 384.85,169.8 385.20,170.8 385.55,169.8 385.90,170.1 386.25,170.2 386.60,170.4 386.95,170.7 387.30,170.7 387.65,170.4 388.00,170.4 388.35,170.5 388.70,170.8 389.05,170.8 389.40,170.4 389.75,169.9 390.10,171.4 390.45,171.0 390.80,170.8 391.15,170.9 391.50,170.6 391.85,170.4 392.20,170.7 392.55,170.8 392.90,170.7 393.25,170.4 393.60,170.8 393.95,171.1 394.30,170.8 394.65,171.0 395.00,170.3 395.35,171.0 395.70,171.0 396.05,170.6 396.40,170.5 396.75,171.3 397.10,170.9 397.45,171.3 397.80,171.0 398.15,171.4 398.50,171.1 398.85,170.7 399.20,171.2 399.55,171.2 399.90,171.5 400.25,171.1 400.60,171.2 400.95,171.6 401.30,171.8 401.65,171.6 402.00,171.7 402.35,171.6 402.70,171.7 403.05,171.7 403.40,171.6 403.75,171.5 404.10,171.5 404.45,172.3 404.80,171.5 405.15,171.4 405.50,171.4 405.85,171.5 406.20,171.6 406.55,171.2 406.90,170.9 407.25,171.7 407.60,171.0 407.95,171.7 408.30,171.6 408.65,172.0 409.00,172.2 409.35,171.7 409.70,171.4 410.05,171.2 410.40,171.3 410.75,171.6 411.10,170.9 411.45,171.6 411.80,171.6 412.15,171.8 412.50,171.5 412.85,171.6 413.20,171.3 413.55,171.3 413.90,170.8 414.25,171.4 414.60,171.8 414.95,171.1 415.30,171.1 415.65,170.4 416.00,171.1 416.35,170.2 416.70,170.7 417.05,170.4 417.40,170.1 417.75,170.9 418.10,170.7 418.45,171.0 418.80,171.2 419.15,171.2 419.50,171.2 419.85,171.7 420.20,171.4 420.55,171.7 420.90,171.5 421.25,171.3 421.60,171.6 421.95,171.7 422.30,171.9 422.65,172.3 423.00,171.3 423.35,172.0 423.70,171.2 424.05,171.6 424.40,171.8 424.75,171.2 425.10,171.3 425.45,172.1 425.80,172.0 426.15,172.0 426.50,171.8 426.85,172.8 427.20,172.0 427.55,171.8 427.90,172.7 428.25,172.3 428.60,172.0 428.95,172.5 429.30,172.2 429.65,172.3 430.00,172.2 430.35,171.8 430.70,172.5 431.05,172.2 431.40,171.8 431.75,171.9 432.10,172.5 432.45,172.0 432.80,172.2 433.15,172.4 433.50,172.2 433.85,171.6 434.20,172.4 434.55,172.5 434.90,172.5 435.25,172.8 435.60,172.3 435.95,172.5 436.30,172.8 436.65,172.1 437.00,172.8 437.35,172.8 437.70,172.5 438.05,172.9 438.40,172.5 438.75,171.9 439.10,172.6 439.45,172.4 439.80,172.4 440.15,172.3 440.50,172.7 440.85,172.5 441.20,172.0 441.55,172.4 441.90,172.5 442.25,172.0 442.60,172.1 442.95,172.1 443.30,172.1 443.65,172.4 444.00,172.6 444.35,172.9 444.70,172.7 445.05,172.6 445.40,172.7 445.75,172.8 446.10,172.2 446.45,172.5 446.80,172.4 447.15,172.2 447.50,172.1 447.85,172.1"/>
<polyline fill="none" stroke="#13128c" stroke-width="1.9" stroke-linejoin="round" points="45.00,118.0 45.35,117.3 45.70,118.3 46.05,117.9 46.40,117.9 46.75,117.9 47.10,118.0 47.45,117.1 47.80,117.3 48.15,116.3 48.50,115.9 48.85,116.0 49.20,117.9 49.55,115.8 49.90,117.1 50.25,117.6 50.60,116.4 50.95,117.5 51.30,117.6 51.65,117.0 52.00,117.7 52.35,116.6 52.70,115.7 53.05,116.4 53.40,115.7 53.75,115.1 54.10,115.0 54.45,117.1 54.80,115.3 55.15,115.6 55.50,115.1 55.85,115.5 56.20,115.2 56.55,115.0 56.90,114.5 57.25,114.3 57.60,114.6 57.95,115.2 58.30,116.2 58.65,115.5 59.00,115.9 59.35,115.0 59.70,114.6 60.05,113.7 60.40,114.5 60.75,113.1 61.10,114.1 61.45,115.2 61.80,114.3 62.15,114.7 62.50,113.8 62.85,113.1 63.20,113.6 63.55,113.5 63.90,114.4 64.25,114.8 64.60,113.1 64.95,113.3 65.30,113.3 65.65,113.1 66.00,112.5 66.35,113.3 66.70,113.4 67.05,113.3 67.40,112.3 67.75,112.9 68.10,111.9 68.45,113.4 68.80,112.2 69.15,112.6 69.50,112.4 69.85,112.3 70.20,112.0 70.55,111.5 70.90,113.6 71.25,112.7 71.60,112.6 71.95,113.7 72.30,112.4 72.65,112.8 73.00,112.4 73.35,113.1 73.70,112.7 74.05,112.6 74.40,112.2 74.75,112.6 75.10,113.1 75.45,111.2 75.80,112.4 76.15,112.2 76.50,112.3 76.85,111.4 77.20,113.0 77.55,112.1 77.90,112.6 78.25,112.4 78.60,111.8 78.95,112.6 79.30,111.8 79.65,112.4 80.00,112.9 80.35,113.1 80.70,113.2 81.05,113.2 81.40,114.6 81.75,113.7 82.10,112.8 82.45,113.2 82.80,113.2 83.15,113.6 83.50,113.4 83.85,113.4 84.20,115.0 84.55,114.1 84.90,113.9 85.25,114.1 85.60,114.2 85.95,115.2 86.30,114.7 86.65,115.2 87.00,112.7 87.35,114.9 87.70,115.4 88.05,116.0 88.40,114.9 88.75,113.9 89.10,115.3 89.45,114.7 89.80,114.0 90.15,114.8 90.50,115.9 90.85,116.0 91.20,115.8 91.55,114.8 91.90,117.0 92.25,114.9 92.60,115.6 92.95,114.8 93.30,116.5 93.65,116.1 94.00,116.4 94.35,116.0 94.70,116.0 95.05,116.2 95.40,115.0 95.75,116.8 96.10,116.8 96.45,116.1 96.80,116.4 97.15,116.7 97.50,117.5 97.85,116.9 98.20,116.7 98.55,116.4 98.90,115.9 99.25,116.5 99.60,116.9 99.95,116.8 100.30,117.1 100.65,117.5 101.00,117.4 101.35,117.3 101.70,117.6 102.05,117.4 102.40,117.3 102.75,117.6 103.10,116.4 103.45,118.2 103.80,116.7 104.15,118.0 104.50,117.5 104.85,118.2 105.20,117.6 105.55,117.1 105.90,118.3 106.25,117.8 106.60,117.8 106.95,117.8 107.30,118.3 107.65,118.2 108.00,117.8 108.35,116.6 108.70,117.2 109.05,117.2 109.40,117.8 109.75,116.5 110.10,115.9 110.45,116.4 110.80,115.8 111.15,116.3 111.50,116.8 111.85,116.3 112.20,118.1 112.55,118.0 112.90,117.7 113.25,117.3 113.60,118.2 113.95,118.9 114.30,117.7 114.65,117.5 115.00,118.4 115.35,117.2 115.70,116.8 116.05,117.9 116.40,117.8 116.75,118.0 117.10,117.8 117.45,118.4 117.80,118.0 118.15,117.8 118.50,117.9 118.85,118.5 119.20,118.7 119.55,118.7 119.90,118.6 120.25,116.1 120.60,117.5 120.95,117.8 121.30,118.1 121.65,116.9 122.00,118.6 122.35,117.8 122.70,117.1 123.05,117.4 123.40,116.9 123.75,116.5 124.10,117.1 124.45,116.3 124.80,115.5 125.15,115.7 125.50,115.8 125.85,114.8 126.20,115.8 126.55,113.9 126.90,115.0 127.25,113.8 127.60,112.3 127.95,112.9 128.30,113.7 128.65,113.2 129.00,112.8 129.35,113.8 129.70,115.0 130.05,112.8 130.40,114.0 130.75,113.5 131.10,113.2 131.45,112.8 131.80,112.6 132.15,113.1 132.50,112.5 132.85,111.2 133.20,112.3 133.55,110.0 133.90,110.6 134.25,109.5 134.60,109.3 134.95,108.0 135.30,108.1 135.65,107.4 136.00,108.0 136.35,107.6 136.70,108.5 137.05,106.4 137.40,107.1 137.75,106.2 138.10,105.4 138.45,104.4 138.80,104.4 139.15,102.6 139.50,102.1 139.85,102.8 140.20,100.9 140.55,102.3 140.90,101.0 141.25,101.2 141.60,101.1 141.95,101.4 142.30,101.3 142.65,101.7 143.00,102.4 143.35,103.7 143.70,104.4 144.05,105.2 144.40,105.4 144.75,105.7 145.10,105.5 145.45,107.5 145.80,108.3 146.15,108.1 146.50,109.3 146.85,110.1 147.20,109.8 147.55,110.8 147.90,110.7 148.25,109.8 148.60,110.8 148.95,111.1 149.30,111.9 149.65,111.2 150.00,111.6 150.35,111.4 150.70,112.1 151.05,112.2 151.40,112.8 151.75,112.7 152.10,112.4 152.45,112.4 152.80,112.2 153.15,112.0 153.50,112.6 153.85,109.6 154.20,110.0 154.55,108.9 154.90,107.5 155.25,104.4 155.60,104.1 155.95,104.8 156.30,105.7 156.65,106.8 157.00,109.5 157.35,110.3 157.70,112.3 158.05,112.0 158.40,113.9 158.75,113.2 159.10,112.9 159.45,113.3 159.80,113.1 160.15,114.2 160.50,115.1 160.85,114.2 161.20,115.1 161.55,114.1 161.90,114.9 162.25,116.2 162.60,114.1 162.95,115.7 163.30,115.7 163.65,113.8 164.00,114.1 164.35,114.3 164.70,115.4 165.05,114.4 165.40,114.5 165.75,114.9 166.10,114.5 166.45,114.4 166.80,114.0 167.15,114.7 167.50,113.5 167.85,114.9 168.20,113.6 168.55,113.2 168.90,114.0 169.25,113.8 169.60,112.3 169.95,113.5 170.30,112.5 170.65,112.7 171.00,113.6 171.35,112.5 171.70,113.2 172.05,112.7 172.40,114.0 172.75,112.7 173.10,112.0 173.45,112.1 173.80,112.2 174.15,112.8 174.50,112.7 174.85,113.4 175.20,113.0 175.55,113.0 175.90,113.2 176.25,113.1 176.60,113.5 176.95,113.9 177.30,114.0 177.65,113.4 178.00,112.8 178.35,113.5 178.70,114.3 179.05,112.8 179.40,114.1 179.75,114.8 180.10,114.3 180.45,114.1 180.80,116.0 181.15,115.9 181.50,115.1 181.85,116.2 182.20,116.3 182.55,115.0 182.90,117.4 183.25,115.4 183.60,115.9 183.95,115.6 184.30,116.4 184.65,115.7 185.00,116.6 185.35,117.4 185.70,117.0 186.05,116.8 186.40,118.1 186.75,116.7 187.10,118.0 187.45,117.3 187.80,117.7 188.15,117.7 188.50,117.9 188.85,117.9 189.20,117.6 189.55,117.8 189.90,118.5 190.25,118.2 190.60,117.7 190.95,118.1 191.30,118.1 191.65,118.6 192.00,118.8 192.35,118.9 192.70,118.5 193.05,119.0 193.40,118.2 193.75,117.4 194.10,119.1 194.45,118.2 194.80,118.7 195.15,118.7 195.50,119.8 195.85,118.8 196.20,119.7 196.55,119.3 196.90,118.9 197.25,118.8 197.60,120.1 197.95,120.1 198.30,120.4 198.65,121.1 199.00,120.2 199.35,120.2 199.70,120.0 200.05,120.2 200.40,120.0 200.75,119.7 201.10,121.5 201.45,119.2 201.80,120.5 202.15,120.6 202.50,120.5 202.85,119.8 203.20,120.3 203.55,120.1 203.90,119.8 204.25,120.4 204.60,120.1 204.95,119.9 205.30,120.4 205.65,119.1 206.00,119.6 206.35,118.4 206.70,118.4 207.05,117.6 207.40,117.4 207.75,116.8 208.10,117.4 208.45,118.1 208.80,119.4 209.15,120.3 209.50,120.9 209.85,120.2 210.20,120.8 210.55,119.9 210.90,119.7 211.25,120.6 211.60,120.8 211.95,120.3 212.30,120.2 212.65,121.6 213.00,120.8 213.35,120.4 213.70,122.8 214.05,121.5 214.40,121.2 214.75,121.9 215.10,121.0 215.45,122.5 215.80,120.6 216.15,120.8 216.50,121.5 216.85,121.1 217.20,122.4 217.55,120.6 217.90,121.2 218.25,121.8 218.60,122.0 218.95,122.3 219.30,121.9 219.65,123.0 220.00,121.4 220.35,121.8 220.70,122.2 221.05,121.5 221.40,121.6 221.75,121.5 222.10,121.4 222.45,121.1 222.80,121.5 223.15,120.9 223.50,122.0 223.85,120.8 224.20,123.0 224.55,122.8 224.90,122.5 225.25,121.7 225.60,121.4 225.95,122.5 226.30,121.8 226.65,121.9 227.00,121.0 227.35,121.9 227.70,120.5 228.05,120.7 228.40,119.2 228.75,119.6 229.10,120.4 229.45,120.1 229.80,120.5 230.15,121.6 230.50,121.3 230.85,122.3 231.20,120.3 231.55,122.2 231.90,122.2 232.25,121.0 232.60,121.2 232.95,122.5 233.30,121.4 233.65,121.7 234.00,122.4 234.35,121.9 234.70,122.4 235.05,121.6 235.40,122.3 235.75,122.8 236.10,122.3 236.45,120.8 236.80,122.5 237.15,122.2 237.50,121.6 237.85,123.0 238.20,121.1 238.55,123.3 238.90,121.8 239.25,123.1 239.60,122.2 239.95,121.4 240.30,122.3 240.65,122.4 241.00,122.5 241.35,122.9 241.70,121.7 242.05,122.5 242.40,122.7 242.75,122.1 243.10,121.7 243.45,121.7 243.80,122.7 244.15,122.7 244.50,121.8 244.85,121.5 245.20,123.0 245.55,121.4 245.90,122.4 246.25,121.8 246.60,121.2 246.95,122.4 247.30,122.2 247.65,123.2 248.00,123.7 248.35,122.2 248.70,122.9 249.05,122.9 249.40,122.0 249.75,121.8 250.10,123.3 250.45,122.1 250.80,122.3 251.15,122.2 251.50,122.3 251.85,122.0 252.20,122.8 252.55,123.1 252.90,122.1 253.25,121.5 253.60,122.4 253.95,121.5 254.30,122.0 254.65,123.1 255.00,123.7 255.35,122.6 255.70,121.7 256.05,122.8 256.40,121.0 256.75,122.0 257.10,123.3 257.45,122.8 257.80,121.5 258.15,121.4 258.50,122.9 258.85,122.3 259.20,122.0 259.55,122.6 259.90,122.0 260.25,121.2 260.60,122.8 260.95,122.0 261.30,121.8 261.65,121.6 262.00,122.5 262.35,121.9 262.70,122.7 263.05,122.2 263.40,122.9 263.75,122.0 264.10,121.9 264.45,121.0 264.80,121.5 265.15,122.6 265.50,123.9 265.85,121.3 266.20,121.4 266.55,122.2 266.90,122.2 267.25,121.5 267.60,121.9 267.95,120.9 268.30,121.6 268.65,122.3 269.00,122.7 269.35,121.6 269.70,121.5 270.05,121.9 270.40,122.2 270.75,121.8 271.10,121.1 271.45,121.7 271.80,122.0 272.15,121.0 272.50,120.6 272.85,121.7 273.20,121.6 273.55,121.9 273.90,121.4 274.25,120.9 274.60,121.0 274.95,120.6 275.30,120.6 275.65,120.8 276.00,120.8 276.35,121.7 276.70,120.2 277.05,120.9 277.40,120.4 277.75,121.6 278.10,120.7 278.45,120.1 278.80,120.7 279.15,120.0 279.50,119.4 279.85,120.4 280.20,119.6 280.55,119.9 280.90,119.2 281.25,118.6 281.60,117.8 281.95,116.7 282.30,117.4 282.65,116.6 283.00,116.7 283.35,116.0 283.70,115.4 284.05,115.1 284.40,116.1 284.75,116.5 285.10,115.8 285.45,116.5 285.80,117.4 286.15,116.4 286.50,117.1 286.85,117.1 287.20,118.8 287.55,118.7 287.90,118.6 288.25,118.3 288.60,119.5 288.95,120.5 289.30,120.0 289.65,120.2 290.00,121.0 290.35,120.1 290.70,121.0 291.05,121.5 291.40,120.8 291.75,120.9 292.10,121.6 292.45,121.5 292.80,121.5 293.15,121.8 293.50,121.9 293.85,121.3 294.20,121.5 294.55,122.2 294.90,122.6 295.25,122.8 295.60,121.5 295.95,122.7 296.30,122.5 296.65,122.1 297.00,122.4 297.35,122.7 297.70,123.3 298.05,121.6 298.40,122.6 298.75,122.2 299.10,122.2 299.45,123.0 299.80,122.8 300.15,121.8 300.50,122.2 300.85,122.6 301.20,121.6 301.55,123.0 301.90,122.4 302.25,122.6 302.60,122.8 302.95,123.7 303.30,122.6 303.65,122.4 304.00,123.7 304.35,122.4 304.70,122.4 305.05,121.9 305.40,123.4 305.75,123.0 306.10,123.2 306.45,123.0 306.80,122.9 307.15,122.5 307.50,122.6 307.85,123.3 308.20,123.2 308.55,124.1 308.90,122.7 309.25,122.9 309.60,122.6 309.95,124.1 310.30,122.6 310.65,123.8 311.00,124.2 311.35,123.3 311.70,123.9 312.05,122.2 312.40,123.3 312.75,122.5 313.10,123.7 313.45,123.6 313.80,123.2 314.15,124.2 314.50,123.9 314.85,123.4 315.20,123.4 315.55,122.9 315.90,123.6 316.25,125.0 316.60,123.4 316.95,124.1 317.30,123.5 317.65,124.3 318.00,124.1 318.35,123.7 318.70,122.8 319.05,123.6 319.40,124.6 319.75,123.7 320.10,124.3 320.45,123.6 320.80,122.8 321.15,124.1 321.50,124.0 321.85,123.4 322.20,123.5 322.55,123.9 322.90,123.3 323.25,123.8 323.60,123.4 323.95,122.1 324.30,123.3 324.65,123.0 325.00,122.8 325.35,123.5 325.70,122.9 326.05,123.4 326.40,123.7 326.75,123.1 327.10,122.1 327.45,122.5 327.80,123.5 328.15,122.7 328.50,122.4 328.85,122.8 329.20,123.2 329.55,123.0 329.90,123.2 330.25,122.4 330.60,122.7 330.95,122.7 331.30,122.9 331.65,121.6 332.00,122.8 332.35,122.1 332.70,123.8 333.05,123.9 333.40,124.0 333.75,123.5 334.10,122.7 334.45,123.6 334.80,122.9 335.15,123.4 335.50,122.5 335.85,122.7 336.20,123.4 336.55,124.1 336.90,123.1 337.25,124.5 337.60,124.8 337.95,122.4 338.30,123.1 338.65,122.6 339.00,123.1 339.35,122.9 339.70,123.1 340.05,123.8 340.40,123.7 340.75,123.3 341.10,123.2 341.45,123.3 341.80,123.2 342.15,123.5 342.50,123.2 342.85,123.4 343.20,122.3 343.55,123.6 343.90,124.1 344.25,123.2 344.60,122.2 344.95,123.8 345.30,122.8 345.65,121.2 346.00,122.8 346.35,123.3 346.70,123.1 347.05,123.6 347.40,123.1 347.75,122.8 348.10,121.5 348.45,121.9 348.80,122.6 349.15,122.8 349.50,121.7 349.85,121.9 350.20,122.4 350.55,120.9 350.90,120.8 351.25,121.7 351.60,121.8 351.95,121.2 352.30,120.0 352.65,121.2 353.00,120.2 353.35,121.2 353.70,120.5 354.05,120.5 354.40,120.6 354.75,119.6 355.10,120.2 355.45,120.3 355.80,119.5 356.15,119.9 356.50,118.5 356.85,119.3 357.20,118.7 357.55,117.8 357.90,118.3 358.25,117.9 358.60,117.9 358.95,118.2 359.30,118.8 359.65,118.1 360.00,118.5 360.35,117.6 360.70,118.7 361.05,119.5 361.40,119.5 361.75,119.5 362.10,119.1 362.45,119.1 362.80,119.8 363.15,119.3 363.50,119.5 363.85,121.0 364.20,120.1 364.55,121.9 364.90,120.2 365.25,121.5 365.60,120.7 365.95,121.6 366.30,121.0 366.65,121.8 367.00,121.8 367.35,121.7 367.70,122.4 368.05,123.1 368.40,121.9 368.75,122.9 369.10,122.5 369.45,122.5 369.80,123.8 370.15,121.3 370.50,122.2 370.85,121.6 371.20,122.5 371.55,122.6 371.90,125.0 372.25,123.0 372.60,123.9 372.95,123.6 373.30,122.6 373.65,123.2 374.00,123.9 374.35,123.0 374.70,123.1 375.05,123.3 375.40,122.1 375.75,122.5 376.10,123.2 376.45,123.3 376.80,122.5 377.15,122.9 377.50,123.0 377.85,123.0 378.20,123.5 378.55,123.2 378.90,123.2 379.25,122.3 379.60,122.5 379.95,123.4 380.30,122.2 380.65,123.4 381.00,122.8 381.35,122.8 381.70,123.7 382.05,122.9 382.40,122.8 382.75,122.9 383.10,123.4 383.45,125.0 383.80,122.1 384.15,123.4 384.50,123.3 384.85,124.0 385.20,123.3 385.55,122.0 385.90,124.3 386.25,122.9 386.60,123.5 386.95,122.8 387.30,123.0 387.65,123.4 388.00,124.2 388.35,124.2 388.70,123.4 389.05,124.0 389.40,123.5 389.75,123.9 390.10,123.9 390.45,124.2 390.80,123.5 391.15,123.8 391.50,124.1 391.85,124.0 392.20,123.5 392.55,125.0 392.90,123.8 393.25,124.5 393.60,124.2 393.95,124.8 394.30,122.8 394.65,125.4 395.00,124.1 395.35,123.5 395.70,124.3 396.05,125.6 396.40,124.6 396.75,123.6 397.10,124.1 397.45,125.2 397.80,123.5 398.15,124.3 398.50,124.3 398.85,125.7 399.20,124.3 399.55,125.3 399.90,124.1 400.25,124.1 400.60,125.2 400.95,125.0 401.30,123.6 401.65,125.0 402.00,125.0 402.35,124.3 402.70,124.8 403.05,124.9 403.40,124.4 403.75,124.4 404.10,124.3 404.45,124.6 404.80,124.0 405.15,124.8 405.50,123.9 405.85,124.9 406.20,124.8 406.55,124.2 406.90,125.4 407.25,126.0 407.60,125.7 407.95,124.1 408.30,125.6 408.65,125.0 409.00,124.8 409.35,124.5 409.70,124.9 410.05,125.7 410.40,125.2 410.75,124.6 411.10,124.5 411.45,124.6 411.80,125.2 412.15,125.9 412.50,124.1 412.85,124.7 413.20,124.4 413.55,124.1 413.90,124.7 414.25,124.7 414.60,123.5 414.95,123.6 415.30,124.8 415.65,124.2 416.00,124.3 416.35,123.7 416.70,123.9 417.05,124.5 417.40,124.0 417.75,123.8 418.10,124.5 418.45,125.2 418.80,124.1 419.15,125.4 419.50,125.3 419.85,124.4 420.20,124.9 420.55,124.9 420.90,125.3 421.25,125.4 421.60,124.2 421.95,124.2 422.30,125.6 422.65,125.1 423.00,125.3 423.35,125.2 423.70,125.9 424.05,124.3 424.40,125.7 424.75,124.6 425.10,125.5 425.45,125.8 425.80,124.2 426.15,125.3 426.50,124.9 426.85,124.9 427.20,125.1 427.55,124.5 427.90,124.5 428.25,125.5 428.60,125.6 428.95,124.8 429.30,124.2 429.65,126.5 430.00,125.7 430.35,125.3 430.70,124.5 431.05,124.8 431.40,125.2 431.75,124.5 432.10,126.1 432.45,125.2 432.80,125.3 433.15,124.5 433.50,124.6 433.85,124.7 434.20,125.3 434.55,125.0 434.90,125.0 435.25,125.3 435.60,125.3 435.95,126.0 436.30,125.0 436.65,124.5 437.00,125.1 437.35,126.0 437.70,124.8 438.05,125.2 438.40,124.9 438.75,125.4 439.10,125.3 439.45,124.7 439.80,125.0 440.15,125.7 440.50,125.8 440.85,125.7 441.20,125.7 441.55,125.0 441.90,124.9 442.25,125.7 442.60,124.5 442.95,125.1 443.30,124.1 443.65,124.9 444.00,124.7 444.35,124.4 444.70,125.5 445.05,124.7 445.40,124.9 445.75,125.0 446.10,124.7 446.45,126.0 446.80,124.9 447.15,125.3 447.50,124.4 447.85,124.9"/>
<polygon points="108.2,104.6 118.2,104.6 113.2,112.2" class="t"/>
<rect x="123.8" y="96.9" width="7.4" height="7.4" class="s"/>
<polygon points="204.6,102.5 214.6,102.5 209.6,110.1" class="t"/>
<rect x="227.8" y="105.6" width="7.4" height="7.4" class="s"/>
<rect x="281.1" y="98.6" width="7.4" height="7.4" class="s"/>
<polygon points="300.0,112.4 310.0,112.4 305.0,120.0" class="t"/>
<rect x="328.6" y="106.0" width="7.4" height="7.4" class="s"/>
<rect x="355.6" y="105.4" width="7.4" height="7.4" class="s"/>
<polygon points="353.8,100.8 363.8,100.8 358.8,108.4" class="t"/>
<polygon points="363.4,98.9 373.4,98.9 368.4,106.5" class="t"/>
<rect x="416.2" y="113.7" width="7.4" height="7.4" class="s"/>
<polygon points="107.8,151.3 117.8,151.3 112.8,158.9" class="t"/>
<rect x="123.8" y="150.6" width="7.4" height="7.4" class="s"/>
<polygon points="132.0,139.3 142.0,139.3 137.0,146.9" class="t"/>
<rect x="143.7" y="140.4" width="7.4" height="7.4" class="s"/>
<rect x="152.8" y="127.3" width="7.4" height="7.4" class="s"/>
<polygon points="205.3,146.0 215.3,146.0 210.3,153.6" class="t"/>
<rect x="226.8" y="148.2" width="7.4" height="7.4" class="s"/>
<rect x="281.1" y="144.7" width="7.4" height="7.4" class="s"/>
<polygon points="298.2,159.8 308.2,159.8 303.2,167.4" class="t"/>
<rect x="328.0" y="152.3" width="7.4" height="7.4" class="s"/>
<rect x="349.8" y="148.5" width="7.4" height="7.4" class="s"/>
<rect x="364.0" y="148.9" width="7.4" height="7.4" class="s"/>
<polygon points="353.4,138.6 363.4,138.6 358.4,146.2" class="t"/>
<polygon points="352.6,140.2 362.6,140.2 357.6,147.8" class="t"/>
<polygon points="361.9,137.5 371.9,137.5 366.9,145.1" class="t"/>
<rect x="414.0" y="161.4" width="7.4" height="7.4" class="s"/>
<polygon points="106.1,189.3 116.1,189.3 111.1,196.9" class="t"/>
<rect x="122.3" y="185.0" width="7.4" height="7.4" class="s"/>
<polygon points="130.2,182.3 140.2,182.3 135.2,189.9" class="t"/>
<rect x="143.3" y="183.3" width="7.4" height="7.4" class="s"/>
<rect x="153.3" y="170.5" width="7.4" height="7.4" class="s"/>
<polygon points="205.0,189.6 215.0,189.6 210.0,197.2" class="t"/>
<rect x="226.3" y="193.4" width="7.4" height="7.4" class="s"/>
<rect x="280.6" y="189.7" width="7.4" height="7.4" class="s"/>
<polygon points="298.2,199.3 308.2,199.3 303.2,206.9" class="t"/>
<rect x="328.0" y="197.1" width="7.4" height="7.4" class="s"/>
<rect x="347.7" y="196.7" width="7.4" height="7.4" class="s"/>
<rect x="361.9" y="198.1" width="7.4" height="7.4" class="s"/>
<polygon points="352.8,187.2 362.8,187.2 357.8,194.8" class="t"/>
<polygon points="351.8,188.6 361.8,188.6 356.8,196.2" class="t"/>
<polygon points="362.3,188.7 372.3,188.7 367.3,196.3" class="t"/>
<rect x="414.0" y="205.8" width="7.4" height="7.4" class="s"/>
<polygon points="106.1,222.6 116.1,222.6 111.1,230.2" class="t"/>
<rect x="122.3" y="230.4" width="7.4" height="7.4" class="s"/>
<polygon points="130.7,211.6 140.7,211.6 135.7,219.2" class="t"/>
<rect x="145.0" y="226.8" width="7.4" height="7.4" class="s"/>
<rect x="152.2" y="214.1" width="7.4" height="7.4" class="s"/>
<polygon points="204.6,220.1 214.6,220.1 209.6,227.7" class="t"/>
<rect x="226.1" y="237.4" width="7.4" height="7.4" class="s"/>
<rect x="280.6" y="236.3" width="7.4" height="7.4" class="s"/>
<polygon points="297.4,241.7 307.4,241.7 302.4,249.3" class="t"/>
<rect x="328.2" y="241.3" width="7.4" height="7.4" class="s"/>
<rect x="349.8" y="241.7" width="7.4" height="7.4" class="s"/>
<rect x="366.8" y="241.7" width="7.4" height="7.4" class="s"/>
<rect x="357.3" y="232.5" width="7.4" height="7.4" class="s"/>
<polygon points="352.8,227.5 362.8,227.5 357.8,235.1" class="t"/>
<polygon points="361.9,229.0 371.9,229.0 366.9,236.6" class="t"/>
<rect x="413.2" y="245.9" width="7.4" height="7.4" class="s"/>
<polygon points="106.5,271.4 116.5,271.4 111.5,279.0" class="t"/>
<rect x="122.3" y="274.3" width="7.4" height="7.4" class="s"/>
<polygon points="131.0,254.4 141.0,254.4 136.0,262.0" class="t"/>
<rect x="143.7" y="272.8" width="7.4" height="7.4" class="s"/>
<rect x="152.3" y="247.1" width="7.4" height="7.4" class="s"/>
<polygon points="204.6,255.9 214.6,255.9 209.6,263.5" class="t"/>
<rect x="225.6" y="280.5" width="7.4" height="7.4" class="s"/>
<rect x="279.6" y="277.7" width="7.4" height="7.4" class="s"/>
<polygon points="295.7,288.4 305.7,288.4 300.7,296.0" class="t"/>
<rect x="326.7" y="277.7" width="7.4" height="7.4" class="s"/>
<rect x="347.9" y="283.5" width="7.4" height="7.4" class="s"/>
<rect x="366.4" y="285.6" width="7.4" height="7.4" class="s"/>
<rect x="357.9" y="273.5" width="7.4" height="7.4" class="s"/>
<polygon points="351.9,272.5 361.9,272.5 356.9,280.1" class="t"/>
<polygon points="364.0,278.4 374.0,278.4 369.0,286.0" class="t"/>
<rect x="413.1" y="291.4" width="7.4" height="7.4" class="s"/>
<polygon points="106.8,322.8 116.8,322.8 111.8,330.4" class="t"/>
<rect x="122.1" y="311.6" width="7.4" height="7.4" class="s"/>
<polygon points="132.0,307.8 142.0,307.8 137.0,315.4" class="t"/>
<rect x="143.8" y="311.1" width="7.4" height="7.4" class="s"/>
<rect x="153.3" y="267.1" width="7.4" height="7.4" class="s"/>
<polygon points="205.0,316.1 215.0,316.1 210.0,323.7" class="t"/>
<rect x="226.3" y="325.8" width="7.4" height="7.4" class="s"/>
<rect x="280.0" y="322.3" width="7.4" height="7.4" class="s"/>
<polygon points="297.2,333.6 307.2,333.6 302.2,341.2" class="t"/>
<rect x="326.8" y="322.7" width="7.4" height="7.4" class="s"/>
<rect x="348.3" y="331.8" width="7.4" height="7.4" class="s"/>
<rect x="367.8" y="329.6" width="7.4" height="7.4" class="s"/>
<rect x="357.0" y="324.5" width="7.4" height="7.4" class="s"/>
<polygon points="361.8,320.6 371.8,320.6 366.8,328.2" class="t"/>
<rect x="413.1" y="338.8" width="7.4" height="7.4" class="s"/>
<line x1="44.8" y1="10.5" x2="44.8" y2="364" class="a"/>
<line x1="38" y1="357.0" x2="448.8" y2="357.0" class="a"/>
<line x1="38" y1="357.0" x2="45" y2="357.0" class="a"/>
<line x1="41" y1="311.2" x2="45" y2="311.2" class="a"/>
<line x1="38" y1="265.5" x2="45" y2="265.5" class="a"/>
<line x1="41" y1="219.8" x2="45" y2="219.8" class="a"/>
<line x1="38" y1="174.0" x2="45" y2="174.0" class="a"/>
<line x1="41" y1="128.2" x2="45" y2="128.2" class="a"/>
<line x1="38" y1="82.5" x2="45" y2="82.5" class="a"/>
<line x1="41" y1="36.8" x2="45" y2="36.8" class="a"/>
<line x1="44.8" y1="356.5" x2="44.8" y2="364.2" class="a"/>
<line x1="73.3" y1="356.5" x2="73.3" y2="360.8" class="a"/>
<line x1="102.1" y1="356.5" x2="102.1" y2="364.2" class="a"/>
<line x1="131.0" y1="356.5" x2="131.0" y2="360.8" class="a"/>
<line x1="159.8" y1="356.5" x2="159.8" y2="364.2" class="a"/>
<line x1="188.6" y1="356.5" x2="188.6" y2="360.8" class="a"/>
<line x1="217.4" y1="356.5" x2="217.4" y2="364.2" class="a"/>
<line x1="246.2" y1="356.5" x2="246.2" y2="360.8" class="a"/>
<line x1="275.1" y1="356.5" x2="275.1" y2="364.2" class="a"/>
<line x1="303.9" y1="356.5" x2="303.9" y2="360.8" class="a"/>
<line x1="332.7" y1="356.5" x2="332.7" y2="364.2" class="a"/>
<line x1="361.5" y1="356.5" x2="361.5" y2="360.8" class="a"/>
<line x1="390.4" y1="356.5" x2="390.4" y2="364.2" class="a"/>
<line x1="419.2" y1="356.5" x2="419.2" y2="360.8" class="a"/>
<line x1="447.8" y1="356.5" x2="447.8" y2="364.2" class="a"/>
<text transform="translate(44.5,387.6) scale(0.92,1)" class="tk">20</text>
<text transform="translate(102.1,387.6) scale(0.92,1)" class="tk">30</text>
<text transform="translate(159.8,387.6) scale(0.92,1)" class="tk">40</text>
<text transform="translate(217.4,387.6) scale(0.92,1)" class="tk">50</text>
<text transform="translate(275.1,387.6) scale(0.92,1)" class="tk">60</text>
<text transform="translate(332.7,387.6) scale(0.92,1)" class="tk">70</text>
<text transform="translate(390.4,387.6) scale(0.92,1)" class="tk">80</text>
<text transform="translate(448.0,387.6) scale(0.92,1)" class="tk">90</text>
<text transform="translate(452.0,129.0) scale(0.844,1)" class="lb">[R]/[Mo] = 9</text>
<text transform="translate(450.2,175.4) scale(0.836,1)" class="lb">[R]/[Mo] = 8</text>
<text transform="translate(450.7,218.4) scale(0.840,1)" class="lb">[R]/[Mo] = 7</text>
<text transform="translate(451.4,262.0) scale(0.841,1)" class="lb">[R]/[Mo] = 6</text>
<text transform="translate(452.5,306.8) scale(0.843,1)" class="lb">[R]/[Mo] = 5</text>
<text transform="translate(453.8,346.8) scale(0.837,1)" class="lb">[R]/[Mo] = 4</text>
<polygon points="367.3,15.4 377.5,15.4 372.4,23.4" class="t"/>
<text x="382.4" y="25.4" class="lg">- γ-MoC [45-1015]</text>
<text transform="translate(249.8,425.5) scale(0.93,1)" class="at" text-anchor="middle">2Θ, degr.</text>
<text transform="translate(26.0,174.2) rotate(-90)" class="at2" text-anchor="middle">Intensity, a.u.</text>
<text x="272" y="460.5" class="bb" text-anchor="middle"><tspan font-weight="normal">(</tspan>b<tspan font-weight="normal">)</tspan></text>
</svg>
</body></html>
